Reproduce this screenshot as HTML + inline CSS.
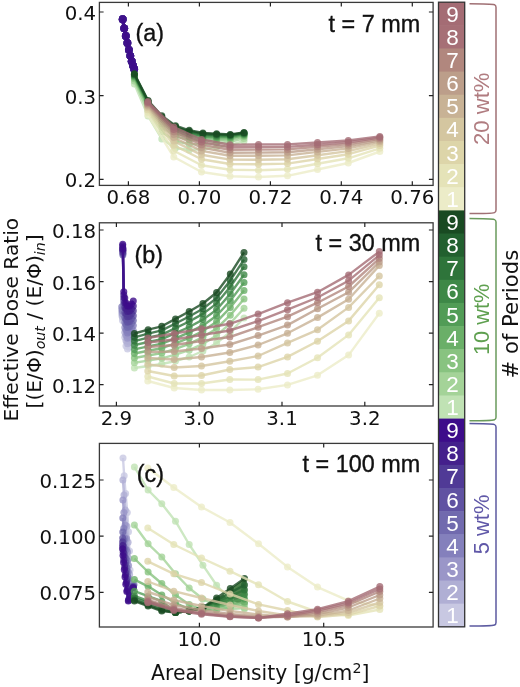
<!DOCTYPE html>
<html><head><meta charset="utf-8"><style>
html,body{margin:0;padding:0;background:#fff;width:520px;height:687px;overflow:hidden}
svg{display:block}
</style></head><body>
<svg width="520" height="687" viewBox="0 0 520 687">
<rect x="0" y="0" width="520" height="687" fill="#ffffff"/>
<defs>
<clipPath id="ca"><rect x="99.4" y="2.4" width="333.7" height="183.0"/></clipPath>
<clipPath id="cb"><rect x="99.4" y="222.8" width="333.7" height="183.2"/></clipPath>
<clipPath id="cc"><rect x="99.4" y="443.4" width="333.7" height="183.6"/></clipPath>
</defs>
<g clip-path="url(#ca)">
<polyline points="122.7,19.2 124.2,28.3 125.8,36 127.4,43 128.9,49.8 130.3,55.8 131.7,61.2 133,65.5 134.2,69" fill="none" stroke="#c8c8e2" stroke-opacity="0.8" stroke-width="3.2" stroke-linejoin="round" stroke-linecap="butt"/>
<circle cx="122.7" cy="19.2" r="3.9" fill="#c8c8e2" fill-opacity="0.8"/>
<circle cx="124.2" cy="28.3" r="3.9" fill="#c8c8e2" fill-opacity="0.8"/>
<circle cx="125.8" cy="36" r="3.9" fill="#c8c8e2" fill-opacity="0.8"/>
<circle cx="127.4" cy="43" r="3.9" fill="#c8c8e2" fill-opacity="0.8"/>
<circle cx="128.9" cy="49.8" r="3.9" fill="#c8c8e2" fill-opacity="0.8"/>
<circle cx="130.3" cy="55.8" r="3.9" fill="#c8c8e2" fill-opacity="0.8"/>
<circle cx="131.7" cy="61.2" r="3.9" fill="#c8c8e2" fill-opacity="0.8"/>
<circle cx="133" cy="65.5" r="3.9" fill="#c8c8e2" fill-opacity="0.8"/>
<circle cx="134.2" cy="69" r="3.9" fill="#c8c8e2" fill-opacity="0.8"/>
<polyline points="122.7,19.2 124.2,28.3 125.8,36 127.4,43 128.9,49.8 130.3,55.8 131.7,61.2 133,65.5 134.2,69" fill="none" stroke="#b0afd4" stroke-opacity="0.8" stroke-width="3.2" stroke-linejoin="round" stroke-linecap="butt"/>
<circle cx="122.7" cy="19.2" r="3.9" fill="#b0afd4" fill-opacity="0.8"/>
<circle cx="124.2" cy="28.3" r="3.9" fill="#b0afd4" fill-opacity="0.8"/>
<circle cx="125.8" cy="36" r="3.9" fill="#b0afd4" fill-opacity="0.8"/>
<circle cx="127.4" cy="43" r="3.9" fill="#b0afd4" fill-opacity="0.8"/>
<circle cx="128.9" cy="49.8" r="3.9" fill="#b0afd4" fill-opacity="0.8"/>
<circle cx="130.3" cy="55.8" r="3.9" fill="#b0afd4" fill-opacity="0.8"/>
<circle cx="131.7" cy="61.2" r="3.9" fill="#b0afd4" fill-opacity="0.8"/>
<circle cx="133" cy="65.5" r="3.9" fill="#b0afd4" fill-opacity="0.8"/>
<circle cx="134.2" cy="69" r="3.9" fill="#b0afd4" fill-opacity="0.8"/>
<polyline points="122.7,19.2 124.2,28.3 125.8,36 127.4,43 128.9,49.8 130.3,55.8 131.7,61.2 133,65.5 134.2,69" fill="none" stroke="#9a96c8" stroke-opacity="0.8" stroke-width="3.2" stroke-linejoin="round" stroke-linecap="butt"/>
<circle cx="122.7" cy="19.2" r="3.9" fill="#9a96c8" fill-opacity="0.8"/>
<circle cx="124.2" cy="28.3" r="3.9" fill="#9a96c8" fill-opacity="0.8"/>
<circle cx="125.8" cy="36" r="3.9" fill="#9a96c8" fill-opacity="0.8"/>
<circle cx="127.4" cy="43" r="3.9" fill="#9a96c8" fill-opacity="0.8"/>
<circle cx="128.9" cy="49.8" r="3.9" fill="#9a96c8" fill-opacity="0.8"/>
<circle cx="130.3" cy="55.8" r="3.9" fill="#9a96c8" fill-opacity="0.8"/>
<circle cx="131.7" cy="61.2" r="3.9" fill="#9a96c8" fill-opacity="0.8"/>
<circle cx="133" cy="65.5" r="3.9" fill="#9a96c8" fill-opacity="0.8"/>
<circle cx="134.2" cy="69" r="3.9" fill="#9a96c8" fill-opacity="0.8"/>
<polyline points="122.7,19.2 124.2,28.3 125.8,36 127.4,43 128.9,49.8 130.3,55.8 131.7,61.2 133,65.5 134.2,69" fill="none" stroke="#8480bc" stroke-opacity="0.8" stroke-width="3.2" stroke-linejoin="round" stroke-linecap="butt"/>
<circle cx="122.7" cy="19.2" r="3.9" fill="#8480bc" fill-opacity="0.8"/>
<circle cx="124.2" cy="28.3" r="3.9" fill="#8480bc" fill-opacity="0.8"/>
<circle cx="125.8" cy="36" r="3.9" fill="#8480bc" fill-opacity="0.8"/>
<circle cx="127.4" cy="43" r="3.9" fill="#8480bc" fill-opacity="0.8"/>
<circle cx="128.9" cy="49.8" r="3.9" fill="#8480bc" fill-opacity="0.8"/>
<circle cx="130.3" cy="55.8" r="3.9" fill="#8480bc" fill-opacity="0.8"/>
<circle cx="131.7" cy="61.2" r="3.9" fill="#8480bc" fill-opacity="0.8"/>
<circle cx="133" cy="65.5" r="3.9" fill="#8480bc" fill-opacity="0.8"/>
<circle cx="134.2" cy="69" r="3.9" fill="#8480bc" fill-opacity="0.8"/>
<polyline points="122.7,19.2 124.2,28.3 125.8,36 127.4,43 128.9,49.8 130.3,55.8 131.7,61.2 133,65.5 134.2,69" fill="none" stroke="#716aae" stroke-opacity="0.8" stroke-width="3.2" stroke-linejoin="round" stroke-linecap="butt"/>
<circle cx="122.7" cy="19.2" r="3.9" fill="#716aae" fill-opacity="0.8"/>
<circle cx="124.2" cy="28.3" r="3.9" fill="#716aae" fill-opacity="0.8"/>
<circle cx="125.8" cy="36" r="3.9" fill="#716aae" fill-opacity="0.8"/>
<circle cx="127.4" cy="43" r="3.9" fill="#716aae" fill-opacity="0.8"/>
<circle cx="128.9" cy="49.8" r="3.9" fill="#716aae" fill-opacity="0.8"/>
<circle cx="130.3" cy="55.8" r="3.9" fill="#716aae" fill-opacity="0.8"/>
<circle cx="131.7" cy="61.2" r="3.9" fill="#716aae" fill-opacity="0.8"/>
<circle cx="133" cy="65.5" r="3.9" fill="#716aae" fill-opacity="0.8"/>
<circle cx="134.2" cy="69" r="3.9" fill="#716aae" fill-opacity="0.8"/>
<polyline points="122.7,19.2 124.2,28.3 125.8,36 127.4,43 128.9,49.8 130.3,55.8 131.7,61.2 133,65.5 134.2,69" fill="none" stroke="#6052a2" stroke-opacity="0.8" stroke-width="3.2" stroke-linejoin="round" stroke-linecap="butt"/>
<circle cx="122.7" cy="19.2" r="3.9" fill="#6052a2" fill-opacity="0.8"/>
<circle cx="124.2" cy="28.3" r="3.9" fill="#6052a2" fill-opacity="0.8"/>
<circle cx="125.8" cy="36" r="3.9" fill="#6052a2" fill-opacity="0.8"/>
<circle cx="127.4" cy="43" r="3.9" fill="#6052a2" fill-opacity="0.8"/>
<circle cx="128.9" cy="49.8" r="3.9" fill="#6052a2" fill-opacity="0.8"/>
<circle cx="130.3" cy="55.8" r="3.9" fill="#6052a2" fill-opacity="0.8"/>
<circle cx="131.7" cy="61.2" r="3.9" fill="#6052a2" fill-opacity="0.8"/>
<circle cx="133" cy="65.5" r="3.9" fill="#6052a2" fill-opacity="0.8"/>
<circle cx="134.2" cy="69" r="3.9" fill="#6052a2" fill-opacity="0.8"/>
<polyline points="122.7,19.2 124.2,28.3 125.8,36 127.4,43 128.9,49.8 130.3,55.8 131.7,61.2 133,65.5 134.2,69" fill="none" stroke="#503a96" stroke-opacity="0.8" stroke-width="3.2" stroke-linejoin="round" stroke-linecap="butt"/>
<circle cx="122.7" cy="19.2" r="3.9" fill="#503a96" fill-opacity="0.8"/>
<circle cx="124.2" cy="28.3" r="3.9" fill="#503a96" fill-opacity="0.8"/>
<circle cx="125.8" cy="36" r="3.9" fill="#503a96" fill-opacity="0.8"/>
<circle cx="127.4" cy="43" r="3.9" fill="#503a96" fill-opacity="0.8"/>
<circle cx="128.9" cy="49.8" r="3.9" fill="#503a96" fill-opacity="0.8"/>
<circle cx="130.3" cy="55.8" r="3.9" fill="#503a96" fill-opacity="0.8"/>
<circle cx="131.7" cy="61.2" r="3.9" fill="#503a96" fill-opacity="0.8"/>
<circle cx="133" cy="65.5" r="3.9" fill="#503a96" fill-opacity="0.8"/>
<circle cx="134.2" cy="69" r="3.9" fill="#503a96" fill-opacity="0.8"/>
<polyline points="122.7,19.2 124.2,28.3 125.8,36 127.4,43 128.9,49.8 130.3,55.8 131.7,61.2 133,65.5 134.2,69" fill="none" stroke="#44208c" stroke-opacity="0.8" stroke-width="3.2" stroke-linejoin="round" stroke-linecap="butt"/>
<circle cx="122.7" cy="19.2" r="3.9" fill="#44208c" fill-opacity="0.8"/>
<circle cx="124.2" cy="28.3" r="3.9" fill="#44208c" fill-opacity="0.8"/>
<circle cx="125.8" cy="36" r="3.9" fill="#44208c" fill-opacity="0.8"/>
<circle cx="127.4" cy="43" r="3.9" fill="#44208c" fill-opacity="0.8"/>
<circle cx="128.9" cy="49.8" r="3.9" fill="#44208c" fill-opacity="0.8"/>
<circle cx="130.3" cy="55.8" r="3.9" fill="#44208c" fill-opacity="0.8"/>
<circle cx="131.7" cy="61.2" r="3.9" fill="#44208c" fill-opacity="0.8"/>
<circle cx="133" cy="65.5" r="3.9" fill="#44208c" fill-opacity="0.8"/>
<circle cx="134.2" cy="69" r="3.9" fill="#44208c" fill-opacity="0.8"/>
<polyline points="122.7,19.2 124.2,28.3 125.8,36 127.4,43 128.9,49.8 130.3,55.8 131.7,61.2 133,65.5 134.2,69" fill="none" stroke="#3d0c8a" stroke-opacity="0.8" stroke-width="3.2" stroke-linejoin="round" stroke-linecap="butt"/>
<circle cx="122.7" cy="19.2" r="3.9" fill="#3d0c8a" fill-opacity="0.8"/>
<circle cx="124.2" cy="28.3" r="3.9" fill="#3d0c8a" fill-opacity="0.8"/>
<circle cx="125.8" cy="36" r="3.9" fill="#3d0c8a" fill-opacity="0.8"/>
<circle cx="127.4" cy="43" r="3.9" fill="#3d0c8a" fill-opacity="0.8"/>
<circle cx="128.9" cy="49.8" r="3.9" fill="#3d0c8a" fill-opacity="0.8"/>
<circle cx="130.3" cy="55.8" r="3.9" fill="#3d0c8a" fill-opacity="0.8"/>
<circle cx="131.7" cy="61.2" r="3.9" fill="#3d0c8a" fill-opacity="0.8"/>
<circle cx="133" cy="65.5" r="3.9" fill="#3d0c8a" fill-opacity="0.8"/>
<circle cx="134.2" cy="69" r="3.9" fill="#3d0c8a" fill-opacity="0.8"/>
<polyline points="134.4,84 148.1,116 161.8,139 175.5,148 189.2,150 202.9,149 216.6,147 230.3,145 244,141" fill="none" stroke="#c0e2b4" stroke-opacity="0.8" stroke-width="2.4" stroke-linejoin="round" stroke-linecap="butt"/>
<circle cx="134.4" cy="84" r="3.5" fill="#c0e2b4" fill-opacity="0.8"/>
<circle cx="148.1" cy="116" r="3.5" fill="#c0e2b4" fill-opacity="0.8"/>
<circle cx="161.8" cy="139" r="3.5" fill="#c0e2b4" fill-opacity="0.8"/>
<circle cx="175.5" cy="148" r="3.5" fill="#c0e2b4" fill-opacity="0.8"/>
<circle cx="189.2" cy="150" r="3.5" fill="#c0e2b4" fill-opacity="0.8"/>
<circle cx="202.9" cy="149" r="3.5" fill="#c0e2b4" fill-opacity="0.8"/>
<circle cx="216.6" cy="147" r="3.5" fill="#c0e2b4" fill-opacity="0.8"/>
<circle cx="230.3" cy="145" r="3.5" fill="#c0e2b4" fill-opacity="0.8"/>
<circle cx="244" cy="141" r="3.5" fill="#c0e2b4" fill-opacity="0.8"/>
<polyline points="134.4,80.9 148.1,111.3 161.8,132 175.5,141.3 189.2,144.1 202.9,144.2 216.6,143 230.3,141.8 244,138.4" fill="none" stroke="#a4d398" stroke-opacity="0.8" stroke-width="2.4" stroke-linejoin="round" stroke-linecap="butt"/>
<circle cx="134.4" cy="80.9" r="3.5" fill="#a4d398" fill-opacity="0.8"/>
<circle cx="148.1" cy="111.3" r="3.5" fill="#a4d398" fill-opacity="0.8"/>
<circle cx="161.8" cy="132" r="3.5" fill="#a4d398" fill-opacity="0.8"/>
<circle cx="175.5" cy="141.3" r="3.5" fill="#a4d398" fill-opacity="0.8"/>
<circle cx="189.2" cy="144.1" r="3.5" fill="#a4d398" fill-opacity="0.8"/>
<circle cx="202.9" cy="144.2" r="3.5" fill="#a4d398" fill-opacity="0.8"/>
<circle cx="216.6" cy="143" r="3.5" fill="#a4d398" fill-opacity="0.8"/>
<circle cx="230.3" cy="141.8" r="3.5" fill="#a4d398" fill-opacity="0.8"/>
<circle cx="244" cy="138.4" r="3.5" fill="#a4d398" fill-opacity="0.8"/>
<polyline points="134.4,78.7 148.1,107.9 161.8,126.9 175.5,136.4 189.2,139.8 202.9,140.7 216.6,140.1 230.3,139.5 244,136.6" fill="none" stroke="#88c380" stroke-opacity="0.8" stroke-width="2.4" stroke-linejoin="round" stroke-linecap="butt"/>
<circle cx="134.4" cy="78.7" r="3.5" fill="#88c380" fill-opacity="0.8"/>
<circle cx="148.1" cy="107.9" r="3.5" fill="#88c380" fill-opacity="0.8"/>
<circle cx="161.8" cy="126.9" r="3.5" fill="#88c380" fill-opacity="0.8"/>
<circle cx="175.5" cy="136.4" r="3.5" fill="#88c380" fill-opacity="0.8"/>
<circle cx="189.2" cy="139.8" r="3.5" fill="#88c380" fill-opacity="0.8"/>
<circle cx="202.9" cy="140.7" r="3.5" fill="#88c380" fill-opacity="0.8"/>
<circle cx="216.6" cy="140.1" r="3.5" fill="#88c380" fill-opacity="0.8"/>
<circle cx="230.3" cy="139.5" r="3.5" fill="#88c380" fill-opacity="0.8"/>
<circle cx="244" cy="136.6" r="3.5" fill="#88c380" fill-opacity="0.8"/>
<polyline points="134.4,77.3 148.1,105.8 161.8,123.7 175.5,133.3 189.2,137 202.9,138.4 216.6,138.3 230.3,138 244,135.4" fill="none" stroke="#6aaf68" stroke-opacity="0.8" stroke-width="2.4" stroke-linejoin="round" stroke-linecap="butt"/>
<circle cx="134.4" cy="77.3" r="3.5" fill="#6aaf68" fill-opacity="0.8"/>
<circle cx="148.1" cy="105.8" r="3.5" fill="#6aaf68" fill-opacity="0.8"/>
<circle cx="161.8" cy="123.7" r="3.5" fill="#6aaf68" fill-opacity="0.8"/>
<circle cx="175.5" cy="133.3" r="3.5" fill="#6aaf68" fill-opacity="0.8"/>
<circle cx="189.2" cy="137" r="3.5" fill="#6aaf68" fill-opacity="0.8"/>
<circle cx="202.9" cy="138.4" r="3.5" fill="#6aaf68" fill-opacity="0.8"/>
<circle cx="216.6" cy="138.3" r="3.5" fill="#6aaf68" fill-opacity="0.8"/>
<circle cx="230.3" cy="138" r="3.5" fill="#6aaf68" fill-opacity="0.8"/>
<circle cx="244" cy="135.4" r="3.5" fill="#6aaf68" fill-opacity="0.8"/>
<polyline points="134.4,76.2 148.1,104.2 161.8,121.4 175.5,131.1 189.2,135 202.9,136.8 216.6,137 230.3,136.9 244,134.5" fill="none" stroke="#519c56" stroke-opacity="0.8" stroke-width="2.4" stroke-linejoin="round" stroke-linecap="butt"/>
<circle cx="134.4" cy="76.2" r="3.5" fill="#519c56" fill-opacity="0.8"/>
<circle cx="148.1" cy="104.2" r="3.5" fill="#519c56" fill-opacity="0.8"/>
<circle cx="161.8" cy="121.4" r="3.5" fill="#519c56" fill-opacity="0.8"/>
<circle cx="175.5" cy="131.1" r="3.5" fill="#519c56" fill-opacity="0.8"/>
<circle cx="189.2" cy="135" r="3.5" fill="#519c56" fill-opacity="0.8"/>
<circle cx="202.9" cy="136.8" r="3.5" fill="#519c56" fill-opacity="0.8"/>
<circle cx="216.6" cy="137" r="3.5" fill="#519c56" fill-opacity="0.8"/>
<circle cx="230.3" cy="136.9" r="3.5" fill="#519c56" fill-opacity="0.8"/>
<circle cx="244" cy="134.5" r="3.5" fill="#519c56" fill-opacity="0.8"/>
<polyline points="134.4,75.4 148.1,103 161.8,119.5 175.5,129.3 189.2,133.5 202.9,135.6 216.6,135.9 230.3,136.1 244,133.9" fill="none" stroke="#3e8847" stroke-opacity="0.8" stroke-width="2.4" stroke-linejoin="round" stroke-linecap="butt"/>
<circle cx="134.4" cy="75.4" r="3.5" fill="#3e8847" fill-opacity="0.8"/>
<circle cx="148.1" cy="103" r="3.5" fill="#3e8847" fill-opacity="0.8"/>
<circle cx="161.8" cy="119.5" r="3.5" fill="#3e8847" fill-opacity="0.8"/>
<circle cx="175.5" cy="129.3" r="3.5" fill="#3e8847" fill-opacity="0.8"/>
<circle cx="189.2" cy="133.5" r="3.5" fill="#3e8847" fill-opacity="0.8"/>
<circle cx="202.9" cy="135.6" r="3.5" fill="#3e8847" fill-opacity="0.8"/>
<circle cx="216.6" cy="135.9" r="3.5" fill="#3e8847" fill-opacity="0.8"/>
<circle cx="230.3" cy="136.1" r="3.5" fill="#3e8847" fill-opacity="0.8"/>
<circle cx="244" cy="133.9" r="3.5" fill="#3e8847" fill-opacity="0.8"/>
<polyline points="134.4,74.8 148.1,102 161.8,118.1 175.5,127.9 189.2,132.3 202.9,134.6 216.6,135.1 230.3,135.5 244,133.3" fill="none" stroke="#2e743a" stroke-opacity="0.8" stroke-width="2.4" stroke-linejoin="round" stroke-linecap="butt"/>
<circle cx="134.4" cy="74.8" r="3.5" fill="#2e743a" fill-opacity="0.8"/>
<circle cx="148.1" cy="102" r="3.5" fill="#2e743a" fill-opacity="0.8"/>
<circle cx="161.8" cy="118.1" r="3.5" fill="#2e743a" fill-opacity="0.8"/>
<circle cx="175.5" cy="127.9" r="3.5" fill="#2e743a" fill-opacity="0.8"/>
<circle cx="189.2" cy="132.3" r="3.5" fill="#2e743a" fill-opacity="0.8"/>
<circle cx="202.9" cy="134.6" r="3.5" fill="#2e743a" fill-opacity="0.8"/>
<circle cx="216.6" cy="135.1" r="3.5" fill="#2e743a" fill-opacity="0.8"/>
<circle cx="230.3" cy="135.5" r="3.5" fill="#2e743a" fill-opacity="0.8"/>
<circle cx="244" cy="133.3" r="3.5" fill="#2e743a" fill-opacity="0.8"/>
<polyline points="134.4,74.3 148.1,101.3 161.8,117 175.5,126.8 189.2,131.3 202.9,133.8 216.6,134.5 230.3,134.9 244,132.9" fill="none" stroke="#22602f" stroke-opacity="0.8" stroke-width="2.4" stroke-linejoin="round" stroke-linecap="butt"/>
<circle cx="134.4" cy="74.3" r="3.5" fill="#22602f" fill-opacity="0.8"/>
<circle cx="148.1" cy="101.3" r="3.5" fill="#22602f" fill-opacity="0.8"/>
<circle cx="161.8" cy="117" r="3.5" fill="#22602f" fill-opacity="0.8"/>
<circle cx="175.5" cy="126.8" r="3.5" fill="#22602f" fill-opacity="0.8"/>
<circle cx="189.2" cy="131.3" r="3.5" fill="#22602f" fill-opacity="0.8"/>
<circle cx="202.9" cy="133.8" r="3.5" fill="#22602f" fill-opacity="0.8"/>
<circle cx="216.6" cy="134.5" r="3.5" fill="#22602f" fill-opacity="0.8"/>
<circle cx="230.3" cy="134.9" r="3.5" fill="#22602f" fill-opacity="0.8"/>
<circle cx="244" cy="132.9" r="3.5" fill="#22602f" fill-opacity="0.8"/>
<polyline points="134.4,73.8 148.1,100.5 161.8,115.8 175.5,125.7 189.2,130.3 202.9,133 216.6,133.8 230.3,134.4 244,132.5" fill="none" stroke="#194a22" stroke-opacity="0.8" stroke-width="2.4" stroke-linejoin="round" stroke-linecap="butt"/>
<circle cx="134.4" cy="73.8" r="3.5" fill="#194a22" fill-opacity="0.8"/>
<circle cx="148.1" cy="100.5" r="3.5" fill="#194a22" fill-opacity="0.8"/>
<circle cx="161.8" cy="115.8" r="3.5" fill="#194a22" fill-opacity="0.8"/>
<circle cx="175.5" cy="125.7" r="3.5" fill="#194a22" fill-opacity="0.8"/>
<circle cx="189.2" cy="130.3" r="3.5" fill="#194a22" fill-opacity="0.8"/>
<circle cx="202.9" cy="133" r="3.5" fill="#194a22" fill-opacity="0.8"/>
<circle cx="216.6" cy="133.8" r="3.5" fill="#194a22" fill-opacity="0.8"/>
<circle cx="230.3" cy="134.4" r="3.5" fill="#194a22" fill-opacity="0.8"/>
<circle cx="244" cy="132.5" r="3.5" fill="#194a22" fill-opacity="0.8"/>
<polyline points="147.8,115 173.8,157 201.5,172 230,176.3 258.5,177 287.5,175.8 317.5,169.5 348.3,163 379.8,151.5" fill="none" stroke="#ececc8" stroke-opacity="0.8" stroke-width="2.4" stroke-linejoin="round" stroke-linecap="butt"/>
<circle cx="147.8" cy="115" r="3.5" fill="#ececc8" fill-opacity="0.8"/>
<circle cx="173.8" cy="157" r="3.5" fill="#ececc8" fill-opacity="0.8"/>
<circle cx="201.5" cy="172" r="3.5" fill="#ececc8" fill-opacity="0.8"/>
<circle cx="230" cy="176.3" r="3.5" fill="#ececc8" fill-opacity="0.8"/>
<circle cx="258.5" cy="177" r="3.5" fill="#ececc8" fill-opacity="0.8"/>
<circle cx="287.5" cy="175.8" r="3.5" fill="#ececc8" fill-opacity="0.8"/>
<circle cx="317.5" cy="169.5" r="3.5" fill="#ececc8" fill-opacity="0.8"/>
<circle cx="348.3" cy="163" r="3.5" fill="#ececc8" fill-opacity="0.8"/>
<circle cx="379.8" cy="151.5" r="3.5" fill="#ececc8" fill-opacity="0.8"/>
<polyline points="147.8,112.2 173.8,150.7 201.5,165.2 230,169.7 258.5,170.2 287.5,169.2 317.5,163.8 348.3,158.3 379.8,148.3" fill="none" stroke="#e5e3b8" stroke-opacity="0.8" stroke-width="2.4" stroke-linejoin="round" stroke-linecap="butt"/>
<circle cx="147.8" cy="112.2" r="3.5" fill="#e5e3b8" fill-opacity="0.8"/>
<circle cx="173.8" cy="150.7" r="3.5" fill="#e5e3b8" fill-opacity="0.8"/>
<circle cx="201.5" cy="165.2" r="3.5" fill="#e5e3b8" fill-opacity="0.8"/>
<circle cx="230" cy="169.7" r="3.5" fill="#e5e3b8" fill-opacity="0.8"/>
<circle cx="258.5" cy="170.2" r="3.5" fill="#e5e3b8" fill-opacity="0.8"/>
<circle cx="287.5" cy="169.2" r="3.5" fill="#e5e3b8" fill-opacity="0.8"/>
<circle cx="317.5" cy="163.8" r="3.5" fill="#e5e3b8" fill-opacity="0.8"/>
<circle cx="348.3" cy="158.3" r="3.5" fill="#e5e3b8" fill-opacity="0.8"/>
<circle cx="379.8" cy="148.3" r="3.5" fill="#e5e3b8" fill-opacity="0.8"/>
<polyline points="147.8,109.7 173.8,145.3 201.5,159.3 230,164 258.5,164.3 287.5,163.6 317.5,159 348.3,154.2 379.8,145.6" fill="none" stroke="#ddd5a9" stroke-opacity="0.8" stroke-width="2.4" stroke-linejoin="round" stroke-linecap="butt"/>
<circle cx="147.8" cy="109.7" r="3.5" fill="#ddd5a9" fill-opacity="0.8"/>
<circle cx="173.8" cy="145.3" r="3.5" fill="#ddd5a9" fill-opacity="0.8"/>
<circle cx="201.5" cy="159.3" r="3.5" fill="#ddd5a9" fill-opacity="0.8"/>
<circle cx="230" cy="164" r="3.5" fill="#ddd5a9" fill-opacity="0.8"/>
<circle cx="258.5" cy="164.3" r="3.5" fill="#ddd5a9" fill-opacity="0.8"/>
<circle cx="287.5" cy="163.6" r="3.5" fill="#ddd5a9" fill-opacity="0.8"/>
<circle cx="317.5" cy="159" r="3.5" fill="#ddd5a9" fill-opacity="0.8"/>
<circle cx="348.3" cy="154.2" r="3.5" fill="#ddd5a9" fill-opacity="0.8"/>
<circle cx="379.8" cy="145.6" r="3.5" fill="#ddd5a9" fill-opacity="0.8"/>
<polyline points="147.8,107.8 173.8,141.1 201.5,154.8 230,159.6 258.5,159.7 287.5,159.2 317.5,155.2 348.3,151.1 379.8,143.5" fill="none" stroke="#d4c6a0" stroke-opacity="0.8" stroke-width="2.4" stroke-linejoin="round" stroke-linecap="butt"/>
<circle cx="147.8" cy="107.8" r="3.5" fill="#d4c6a0" fill-opacity="0.8"/>
<circle cx="173.8" cy="141.1" r="3.5" fill="#d4c6a0" fill-opacity="0.8"/>
<circle cx="201.5" cy="154.8" r="3.5" fill="#d4c6a0" fill-opacity="0.8"/>
<circle cx="230" cy="159.6" r="3.5" fill="#d4c6a0" fill-opacity="0.8"/>
<circle cx="258.5" cy="159.7" r="3.5" fill="#d4c6a0" fill-opacity="0.8"/>
<circle cx="287.5" cy="159.2" r="3.5" fill="#d4c6a0" fill-opacity="0.8"/>
<circle cx="317.5" cy="155.2" r="3.5" fill="#d4c6a0" fill-opacity="0.8"/>
<circle cx="348.3" cy="151.1" r="3.5" fill="#d4c6a0" fill-opacity="0.8"/>
<circle cx="379.8" cy="143.5" r="3.5" fill="#d4c6a0" fill-opacity="0.8"/>
<polyline points="147.8,106.2 173.8,137.5 201.5,150.9 230,155.8 258.5,155.8 287.5,155.4 317.5,151.9 348.3,148.4 379.8,141.7" fill="none" stroke="#c8b295" stroke-opacity="0.8" stroke-width="2.4" stroke-linejoin="round" stroke-linecap="butt"/>
<circle cx="147.8" cy="106.2" r="3.5" fill="#c8b295" fill-opacity="0.8"/>
<circle cx="173.8" cy="137.5" r="3.5" fill="#c8b295" fill-opacity="0.8"/>
<circle cx="201.5" cy="150.9" r="3.5" fill="#c8b295" fill-opacity="0.8"/>
<circle cx="230" cy="155.8" r="3.5" fill="#c8b295" fill-opacity="0.8"/>
<circle cx="258.5" cy="155.8" r="3.5" fill="#c8b295" fill-opacity="0.8"/>
<circle cx="287.5" cy="155.4" r="3.5" fill="#c8b295" fill-opacity="0.8"/>
<circle cx="317.5" cy="151.9" r="3.5" fill="#c8b295" fill-opacity="0.8"/>
<circle cx="348.3" cy="148.4" r="3.5" fill="#c8b295" fill-opacity="0.8"/>
<circle cx="379.8" cy="141.7" r="3.5" fill="#c8b295" fill-opacity="0.8"/>
<polyline points="147.8,104.9 173.8,134.5 201.5,147.6 230,152.7 258.5,152.6 287.5,152.2 317.5,149.2 348.3,146.1 379.8,140.2" fill="none" stroke="#bc9e8a" stroke-opacity="0.8" stroke-width="2.4" stroke-linejoin="round" stroke-linecap="butt"/>
<circle cx="147.8" cy="104.9" r="3.5" fill="#bc9e8a" fill-opacity="0.8"/>
<circle cx="173.8" cy="134.5" r="3.5" fill="#bc9e8a" fill-opacity="0.8"/>
<circle cx="201.5" cy="147.6" r="3.5" fill="#bc9e8a" fill-opacity="0.8"/>
<circle cx="230" cy="152.7" r="3.5" fill="#bc9e8a" fill-opacity="0.8"/>
<circle cx="258.5" cy="152.6" r="3.5" fill="#bc9e8a" fill-opacity="0.8"/>
<circle cx="287.5" cy="152.2" r="3.5" fill="#bc9e8a" fill-opacity="0.8"/>
<circle cx="317.5" cy="149.2" r="3.5" fill="#bc9e8a" fill-opacity="0.8"/>
<circle cx="348.3" cy="146.1" r="3.5" fill="#bc9e8a" fill-opacity="0.8"/>
<circle cx="379.8" cy="140.2" r="3.5" fill="#bc9e8a" fill-opacity="0.8"/>
<polyline points="147.8,103.7 173.8,131.8 201.5,144.7 230,149.8 258.5,149.6 287.5,149.4 317.5,146.8 348.3,144.1 379.8,138.8" fill="none" stroke="#b1877e" stroke-opacity="0.8" stroke-width="2.4" stroke-linejoin="round" stroke-linecap="butt"/>
<circle cx="147.8" cy="103.7" r="3.5" fill="#b1877e" fill-opacity="0.8"/>
<circle cx="173.8" cy="131.8" r="3.5" fill="#b1877e" fill-opacity="0.8"/>
<circle cx="201.5" cy="144.7" r="3.5" fill="#b1877e" fill-opacity="0.8"/>
<circle cx="230" cy="149.8" r="3.5" fill="#b1877e" fill-opacity="0.8"/>
<circle cx="258.5" cy="149.6" r="3.5" fill="#b1877e" fill-opacity="0.8"/>
<circle cx="287.5" cy="149.4" r="3.5" fill="#b1877e" fill-opacity="0.8"/>
<circle cx="317.5" cy="146.8" r="3.5" fill="#b1877e" fill-opacity="0.8"/>
<circle cx="348.3" cy="144.1" r="3.5" fill="#b1877e" fill-opacity="0.8"/>
<circle cx="379.8" cy="138.8" r="3.5" fill="#b1877e" fill-opacity="0.8"/>
<polyline points="147.8,102.6 173.8,129.4 201.5,142.1 230,147.3 258.5,147 287.5,146.9 317.5,144.7 348.3,142.3 379.8,137.6" fill="none" stroke="#a66f76" stroke-opacity="0.8" stroke-width="2.4" stroke-linejoin="round" stroke-linecap="butt"/>
<circle cx="147.8" cy="102.6" r="3.5" fill="#a66f76" fill-opacity="0.8"/>
<circle cx="173.8" cy="129.4" r="3.5" fill="#a66f76" fill-opacity="0.8"/>
<circle cx="201.5" cy="142.1" r="3.5" fill="#a66f76" fill-opacity="0.8"/>
<circle cx="230" cy="147.3" r="3.5" fill="#a66f76" fill-opacity="0.8"/>
<circle cx="258.5" cy="147" r="3.5" fill="#a66f76" fill-opacity="0.8"/>
<circle cx="287.5" cy="146.9" r="3.5" fill="#a66f76" fill-opacity="0.8"/>
<circle cx="317.5" cy="144.7" r="3.5" fill="#a66f76" fill-opacity="0.8"/>
<circle cx="348.3" cy="142.3" r="3.5" fill="#a66f76" fill-opacity="0.8"/>
<circle cx="379.8" cy="137.6" r="3.5" fill="#a66f76" fill-opacity="0.8"/>
<polyline points="147.8,101.5 173.8,127 201.5,139.5 230,144.8 258.5,144.4 287.5,144.4 317.5,142.5 348.3,140.5 379.8,136.4" fill="none" stroke="#a46c74" stroke-opacity="0.8" stroke-width="2.4" stroke-linejoin="round" stroke-linecap="butt"/>
<circle cx="147.8" cy="101.5" r="3.5" fill="#a46c74" fill-opacity="0.8"/>
<circle cx="173.8" cy="127" r="3.5" fill="#a46c74" fill-opacity="0.8"/>
<circle cx="201.5" cy="139.5" r="3.5" fill="#a46c74" fill-opacity="0.8"/>
<circle cx="230" cy="144.8" r="3.5" fill="#a46c74" fill-opacity="0.8"/>
<circle cx="258.5" cy="144.4" r="3.5" fill="#a46c74" fill-opacity="0.8"/>
<circle cx="287.5" cy="144.4" r="3.5" fill="#a46c74" fill-opacity="0.8"/>
<circle cx="317.5" cy="142.5" r="3.5" fill="#a46c74" fill-opacity="0.8"/>
<circle cx="348.3" cy="140.5" r="3.5" fill="#a46c74" fill-opacity="0.8"/>
<circle cx="379.8" cy="136.4" r="3.5" fill="#a46c74" fill-opacity="0.8"/>
</g>
<g clip-path="url(#cb)">
<polyline points="121.8,315.5 122.5,320.5 123.8,315.3 124.8,337.2 126,346.1 127.5,349.1 129.5,347.2 131.5,343.2 133.3,340.2" fill="none" stroke="#c8c8e2" stroke-opacity="0.8" stroke-width="2.4" stroke-linejoin="round" stroke-linecap="butt"/>
<circle cx="121.8" cy="315.5" r="3.5" fill="#c8c8e2" fill-opacity="0.8"/>
<circle cx="122.5" cy="320.5" r="3.5" fill="#c8c8e2" fill-opacity="0.8"/>
<circle cx="123.8" cy="315.3" r="3.5" fill="#c8c8e2" fill-opacity="0.8"/>
<circle cx="124.8" cy="337.2" r="3.5" fill="#c8c8e2" fill-opacity="0.8"/>
<circle cx="126" cy="346.1" r="3.5" fill="#c8c8e2" fill-opacity="0.8"/>
<circle cx="127.5" cy="349.1" r="3.5" fill="#c8c8e2" fill-opacity="0.8"/>
<circle cx="129.5" cy="347.2" r="3.5" fill="#c8c8e2" fill-opacity="0.8"/>
<circle cx="131.5" cy="343.2" r="3.5" fill="#c8c8e2" fill-opacity="0.8"/>
<circle cx="133.3" cy="340.2" r="3.5" fill="#c8c8e2" fill-opacity="0.8"/>
<polyline points="121.8,312.6 122.5,317.3 123.8,312.4 124.8,332.3 126,340.7 127.5,343.7 129.5,342 131.5,338.3 133.3,335.3" fill="none" stroke="#b0afd4" stroke-opacity="0.8" stroke-width="2.4" stroke-linejoin="round" stroke-linecap="butt"/>
<circle cx="121.8" cy="312.6" r="3.5" fill="#b0afd4" fill-opacity="0.8"/>
<circle cx="122.5" cy="317.3" r="3.5" fill="#b0afd4" fill-opacity="0.8"/>
<circle cx="123.8" cy="312.4" r="3.5" fill="#b0afd4" fill-opacity="0.8"/>
<circle cx="124.8" cy="332.3" r="3.5" fill="#b0afd4" fill-opacity="0.8"/>
<circle cx="126" cy="340.7" r="3.5" fill="#b0afd4" fill-opacity="0.8"/>
<circle cx="127.5" cy="343.7" r="3.5" fill="#b0afd4" fill-opacity="0.8"/>
<circle cx="129.5" cy="342" r="3.5" fill="#b0afd4" fill-opacity="0.8"/>
<circle cx="131.5" cy="338.3" r="3.5" fill="#b0afd4" fill-opacity="0.8"/>
<circle cx="133.3" cy="335.3" r="3.5" fill="#b0afd4" fill-opacity="0.8"/>
<polyline points="121.8,309.6 122.5,314.1 123.8,309.4 124.8,327.4 126,335.3 127.5,338.3 129.5,336.9 131.5,333.4 133.3,330.4" fill="none" stroke="#9a96c8" stroke-opacity="0.8" stroke-width="2.4" stroke-linejoin="round" stroke-linecap="butt"/>
<circle cx="121.8" cy="309.6" r="3.5" fill="#9a96c8" fill-opacity="0.8"/>
<circle cx="122.5" cy="314.1" r="3.5" fill="#9a96c8" fill-opacity="0.8"/>
<circle cx="123.8" cy="309.4" r="3.5" fill="#9a96c8" fill-opacity="0.8"/>
<circle cx="124.8" cy="327.4" r="3.5" fill="#9a96c8" fill-opacity="0.8"/>
<circle cx="126" cy="335.3" r="3.5" fill="#9a96c8" fill-opacity="0.8"/>
<circle cx="127.5" cy="338.3" r="3.5" fill="#9a96c8" fill-opacity="0.8"/>
<circle cx="129.5" cy="336.9" r="3.5" fill="#9a96c8" fill-opacity="0.8"/>
<circle cx="131.5" cy="333.4" r="3.5" fill="#9a96c8" fill-opacity="0.8"/>
<circle cx="133.3" cy="330.4" r="3.5" fill="#9a96c8" fill-opacity="0.8"/>
<polyline points="121.8,306.7 122.5,310.9 123.8,306.5 124.8,322.5 126,329.9 127.5,332.9 129.5,331.7 131.5,328.5 133.3,325.5" fill="none" stroke="#8480bc" stroke-opacity="0.8" stroke-width="2.4" stroke-linejoin="round" stroke-linecap="butt"/>
<circle cx="121.8" cy="306.7" r="3.5" fill="#8480bc" fill-opacity="0.8"/>
<circle cx="122.5" cy="310.9" r="3.5" fill="#8480bc" fill-opacity="0.8"/>
<circle cx="123.8" cy="306.5" r="3.5" fill="#8480bc" fill-opacity="0.8"/>
<circle cx="124.8" cy="322.5" r="3.5" fill="#8480bc" fill-opacity="0.8"/>
<circle cx="126" cy="329.9" r="3.5" fill="#8480bc" fill-opacity="0.8"/>
<circle cx="127.5" cy="332.9" r="3.5" fill="#8480bc" fill-opacity="0.8"/>
<circle cx="129.5" cy="331.7" r="3.5" fill="#8480bc" fill-opacity="0.8"/>
<circle cx="131.5" cy="328.5" r="3.5" fill="#8480bc" fill-opacity="0.8"/>
<circle cx="133.3" cy="325.5" r="3.5" fill="#8480bc" fill-opacity="0.8"/>
<polyline points="122.7,250.6 122.9,255.1 123.8,303.6 124.8,317.6 126,324.6 127.5,327.6 129.5,326.6 131.5,323.6 133.3,320.6" fill="none" stroke="#716aae" stroke-opacity="0.8" stroke-width="2.4" stroke-linejoin="round" stroke-linecap="butt"/>
<circle cx="122.7" cy="250.6" r="3.5" fill="#716aae" fill-opacity="0.8"/>
<circle cx="122.9" cy="255.1" r="3.5" fill="#716aae" fill-opacity="0.8"/>
<circle cx="123.8" cy="303.6" r="3.5" fill="#716aae" fill-opacity="0.8"/>
<circle cx="124.8" cy="317.6" r="3.5" fill="#716aae" fill-opacity="0.8"/>
<circle cx="126" cy="324.6" r="3.5" fill="#716aae" fill-opacity="0.8"/>
<circle cx="127.5" cy="327.6" r="3.5" fill="#716aae" fill-opacity="0.8"/>
<circle cx="129.5" cy="326.6" r="3.5" fill="#716aae" fill-opacity="0.8"/>
<circle cx="131.5" cy="323.6" r="3.5" fill="#716aae" fill-opacity="0.8"/>
<circle cx="133.3" cy="320.6" r="3.5" fill="#716aae" fill-opacity="0.8"/>
<polyline points="122.7,249 122.9,253.5 123.8,300.6 124.8,312.7 126,319.2 127.5,322.2 129.5,321.4 131.5,318.7 133.3,315.7" fill="none" stroke="#6052a2" stroke-opacity="0.8" stroke-width="2.4" stroke-linejoin="round" stroke-linecap="butt"/>
<circle cx="122.7" cy="249" r="3.5" fill="#6052a2" fill-opacity="0.8"/>
<circle cx="122.9" cy="253.5" r="3.5" fill="#6052a2" fill-opacity="0.8"/>
<circle cx="123.8" cy="300.6" r="3.5" fill="#6052a2" fill-opacity="0.8"/>
<circle cx="124.8" cy="312.7" r="3.5" fill="#6052a2" fill-opacity="0.8"/>
<circle cx="126" cy="319.2" r="3.5" fill="#6052a2" fill-opacity="0.8"/>
<circle cx="127.5" cy="322.2" r="3.5" fill="#6052a2" fill-opacity="0.8"/>
<circle cx="129.5" cy="321.4" r="3.5" fill="#6052a2" fill-opacity="0.8"/>
<circle cx="131.5" cy="318.7" r="3.5" fill="#6052a2" fill-opacity="0.8"/>
<circle cx="133.3" cy="315.7" r="3.5" fill="#6052a2" fill-opacity="0.8"/>
<polyline points="122.7,247.4 122.9,251.9 123.8,297.7 124.8,307.8 126,313.8 127.5,316.8 129.5,316.3 131.5,313.8 133.3,310.8" fill="none" stroke="#503a96" stroke-opacity="0.8" stroke-width="2.4" stroke-linejoin="round" stroke-linecap="butt"/>
<circle cx="122.7" cy="247.4" r="3.5" fill="#503a96" fill-opacity="0.8"/>
<circle cx="122.9" cy="251.9" r="3.5" fill="#503a96" fill-opacity="0.8"/>
<circle cx="123.8" cy="297.7" r="3.5" fill="#503a96" fill-opacity="0.8"/>
<circle cx="124.8" cy="307.8" r="3.5" fill="#503a96" fill-opacity="0.8"/>
<circle cx="126" cy="313.8" r="3.5" fill="#503a96" fill-opacity="0.8"/>
<circle cx="127.5" cy="316.8" r="3.5" fill="#503a96" fill-opacity="0.8"/>
<circle cx="129.5" cy="316.3" r="3.5" fill="#503a96" fill-opacity="0.8"/>
<circle cx="131.5" cy="313.8" r="3.5" fill="#503a96" fill-opacity="0.8"/>
<circle cx="133.3" cy="310.8" r="3.5" fill="#503a96" fill-opacity="0.8"/>
<polyline points="122.7,245.8 122.9,250.3 123.8,294.7 124.8,302.9 126,308.4 127.5,311.4 129.5,311.1 131.5,308.9 133.3,305.9" fill="none" stroke="#44208c" stroke-opacity="0.8" stroke-width="2.4" stroke-linejoin="round" stroke-linecap="butt"/>
<circle cx="122.7" cy="245.8" r="3.5" fill="#44208c" fill-opacity="0.8"/>
<circle cx="122.9" cy="250.3" r="3.5" fill="#44208c" fill-opacity="0.8"/>
<circle cx="123.8" cy="294.7" r="3.5" fill="#44208c" fill-opacity="0.8"/>
<circle cx="124.8" cy="302.9" r="3.5" fill="#44208c" fill-opacity="0.8"/>
<circle cx="126" cy="308.4" r="3.5" fill="#44208c" fill-opacity="0.8"/>
<circle cx="127.5" cy="311.4" r="3.5" fill="#44208c" fill-opacity="0.8"/>
<circle cx="129.5" cy="311.1" r="3.5" fill="#44208c" fill-opacity="0.8"/>
<circle cx="131.5" cy="308.9" r="3.5" fill="#44208c" fill-opacity="0.8"/>
<circle cx="133.3" cy="305.9" r="3.5" fill="#44208c" fill-opacity="0.8"/>
<polyline points="122.7,244.2 122.9,248.7 123.8,291.8 124.8,298 126,303 127.5,306 129.5,306 131.5,304 133.3,301" fill="none" stroke="#3d0c8a" stroke-opacity="0.8" stroke-width="2.4" stroke-linejoin="round" stroke-linecap="butt"/>
<circle cx="122.7" cy="244.2" r="3.5" fill="#3d0c8a" fill-opacity="0.8"/>
<circle cx="122.9" cy="248.7" r="3.5" fill="#3d0c8a" fill-opacity="0.8"/>
<circle cx="123.8" cy="291.8" r="3.5" fill="#3d0c8a" fill-opacity="0.8"/>
<circle cx="124.8" cy="298" r="3.5" fill="#3d0c8a" fill-opacity="0.8"/>
<circle cx="126" cy="303" r="3.5" fill="#3d0c8a" fill-opacity="0.8"/>
<circle cx="127.5" cy="306" r="3.5" fill="#3d0c8a" fill-opacity="0.8"/>
<circle cx="129.5" cy="306" r="3.5" fill="#3d0c8a" fill-opacity="0.8"/>
<circle cx="131.5" cy="304" r="3.5" fill="#3d0c8a" fill-opacity="0.8"/>
<circle cx="133.3" cy="301" r="3.5" fill="#3d0c8a" fill-opacity="0.8"/>
<polyline points="134.4,368 148.1,366 161.8,364 175.5,361 189.2,357 202.9,351 216.6,343 230.3,332 244,318" fill="none" stroke="#c0e2b4" stroke-opacity="0.8" stroke-width="2.4" stroke-linejoin="round" stroke-linecap="butt"/>
<circle cx="134.4" cy="368" r="3.5" fill="#c0e2b4" fill-opacity="0.8"/>
<circle cx="148.1" cy="366" r="3.5" fill="#c0e2b4" fill-opacity="0.8"/>
<circle cx="161.8" cy="364" r="3.5" fill="#c0e2b4" fill-opacity="0.8"/>
<circle cx="175.5" cy="361" r="3.5" fill="#c0e2b4" fill-opacity="0.8"/>
<circle cx="189.2" cy="357" r="3.5" fill="#c0e2b4" fill-opacity="0.8"/>
<circle cx="202.9" cy="351" r="3.5" fill="#c0e2b4" fill-opacity="0.8"/>
<circle cx="216.6" cy="343" r="3.5" fill="#c0e2b4" fill-opacity="0.8"/>
<circle cx="230.3" cy="332" r="3.5" fill="#c0e2b4" fill-opacity="0.8"/>
<circle cx="244" cy="318" r="3.5" fill="#c0e2b4" fill-opacity="0.8"/>
<polyline points="134.4,362.8 148.1,360.6 161.8,358.3 175.5,354.7 189.2,350.2 202.9,343.9 216.6,335.4 230.3,323.3 244,308.2" fill="none" stroke="#a4d398" stroke-opacity="0.8" stroke-width="2.4" stroke-linejoin="round" stroke-linecap="butt"/>
<circle cx="134.4" cy="362.8" r="3.5" fill="#a4d398" fill-opacity="0.8"/>
<circle cx="148.1" cy="360.6" r="3.5" fill="#a4d398" fill-opacity="0.8"/>
<circle cx="161.8" cy="358.3" r="3.5" fill="#a4d398" fill-opacity="0.8"/>
<circle cx="175.5" cy="354.7" r="3.5" fill="#a4d398" fill-opacity="0.8"/>
<circle cx="189.2" cy="350.2" r="3.5" fill="#a4d398" fill-opacity="0.8"/>
<circle cx="202.9" cy="343.9" r="3.5" fill="#a4d398" fill-opacity="0.8"/>
<circle cx="216.6" cy="335.4" r="3.5" fill="#a4d398" fill-opacity="0.8"/>
<circle cx="230.3" cy="323.3" r="3.5" fill="#a4d398" fill-opacity="0.8"/>
<circle cx="244" cy="308.2" r="3.5" fill="#a4d398" fill-opacity="0.8"/>
<polyline points="134.4,358 148.1,355.5 161.8,353.1 175.5,348.8 189.2,343.8 202.9,337.2 216.6,328.4 230.3,315.2 244,299" fill="none" stroke="#88c380" stroke-opacity="0.8" stroke-width="2.4" stroke-linejoin="round" stroke-linecap="butt"/>
<circle cx="134.4" cy="358" r="3.5" fill="#88c380" fill-opacity="0.8"/>
<circle cx="148.1" cy="355.5" r="3.5" fill="#88c380" fill-opacity="0.8"/>
<circle cx="161.8" cy="353.1" r="3.5" fill="#88c380" fill-opacity="0.8"/>
<circle cx="175.5" cy="348.8" r="3.5" fill="#88c380" fill-opacity="0.8"/>
<circle cx="189.2" cy="343.8" r="3.5" fill="#88c380" fill-opacity="0.8"/>
<circle cx="202.9" cy="337.2" r="3.5" fill="#88c380" fill-opacity="0.8"/>
<circle cx="216.6" cy="328.4" r="3.5" fill="#88c380" fill-opacity="0.8"/>
<circle cx="230.3" cy="315.2" r="3.5" fill="#88c380" fill-opacity="0.8"/>
<circle cx="244" cy="299" r="3.5" fill="#88c380" fill-opacity="0.8"/>
<polyline points="134.4,353.5 148.1,350.8 161.8,348.2 175.5,343.3 189.2,337.9 202.9,331.1 216.6,321.8 230.3,307.6 244,290.4" fill="none" stroke="#6aaf68" stroke-opacity="0.8" stroke-width="2.4" stroke-linejoin="round" stroke-linecap="butt"/>
<circle cx="134.4" cy="353.5" r="3.5" fill="#6aaf68" fill-opacity="0.8"/>
<circle cx="148.1" cy="350.8" r="3.5" fill="#6aaf68" fill-opacity="0.8"/>
<circle cx="161.8" cy="348.2" r="3.5" fill="#6aaf68" fill-opacity="0.8"/>
<circle cx="175.5" cy="343.3" r="3.5" fill="#6aaf68" fill-opacity="0.8"/>
<circle cx="189.2" cy="337.9" r="3.5" fill="#6aaf68" fill-opacity="0.8"/>
<circle cx="202.9" cy="331.1" r="3.5" fill="#6aaf68" fill-opacity="0.8"/>
<circle cx="216.6" cy="321.8" r="3.5" fill="#6aaf68" fill-opacity="0.8"/>
<circle cx="230.3" cy="307.6" r="3.5" fill="#6aaf68" fill-opacity="0.8"/>
<circle cx="244" cy="290.4" r="3.5" fill="#6aaf68" fill-opacity="0.8"/>
<polyline points="134.4,349.4 148.1,346.4 161.8,343.6 175.5,338.3 189.2,332.4 202.9,325.4 216.6,315.7 230.3,300.7 244,282.6" fill="none" stroke="#519c56" stroke-opacity="0.8" stroke-width="2.4" stroke-linejoin="round" stroke-linecap="butt"/>
<circle cx="134.4" cy="349.4" r="3.5" fill="#519c56" fill-opacity="0.8"/>
<circle cx="148.1" cy="346.4" r="3.5" fill="#519c56" fill-opacity="0.8"/>
<circle cx="161.8" cy="343.6" r="3.5" fill="#519c56" fill-opacity="0.8"/>
<circle cx="175.5" cy="338.3" r="3.5" fill="#519c56" fill-opacity="0.8"/>
<circle cx="189.2" cy="332.4" r="3.5" fill="#519c56" fill-opacity="0.8"/>
<circle cx="202.9" cy="325.4" r="3.5" fill="#519c56" fill-opacity="0.8"/>
<circle cx="216.6" cy="315.7" r="3.5" fill="#519c56" fill-opacity="0.8"/>
<circle cx="230.3" cy="300.7" r="3.5" fill="#519c56" fill-opacity="0.8"/>
<circle cx="244" cy="282.6" r="3.5" fill="#519c56" fill-opacity="0.8"/>
<polyline points="134.4,345.2 148.1,342 161.8,339.1 175.5,333.2 189.2,327 202.9,319.6 216.6,309.7 230.3,293.7 244,274.7" fill="none" stroke="#3e8847" stroke-opacity="0.8" stroke-width="2.4" stroke-linejoin="round" stroke-linecap="butt"/>
<circle cx="134.4" cy="345.2" r="3.5" fill="#3e8847" fill-opacity="0.8"/>
<circle cx="148.1" cy="342" r="3.5" fill="#3e8847" fill-opacity="0.8"/>
<circle cx="161.8" cy="339.1" r="3.5" fill="#3e8847" fill-opacity="0.8"/>
<circle cx="175.5" cy="333.2" r="3.5" fill="#3e8847" fill-opacity="0.8"/>
<circle cx="189.2" cy="327" r="3.5" fill="#3e8847" fill-opacity="0.8"/>
<circle cx="202.9" cy="319.6" r="3.5" fill="#3e8847" fill-opacity="0.8"/>
<circle cx="216.6" cy="309.7" r="3.5" fill="#3e8847" fill-opacity="0.8"/>
<circle cx="230.3" cy="293.7" r="3.5" fill="#3e8847" fill-opacity="0.8"/>
<circle cx="244" cy="274.7" r="3.5" fill="#3e8847" fill-opacity="0.8"/>
<polyline points="134.4,341.1 148.1,337.7 161.8,334.6 175.5,328.2 189.2,321.5 202.9,313.9 216.6,303.6 230.3,286.8 244,266.8" fill="none" stroke="#2e743a" stroke-opacity="0.8" stroke-width="2.4" stroke-linejoin="round" stroke-linecap="butt"/>
<circle cx="134.4" cy="341.1" r="3.5" fill="#2e743a" fill-opacity="0.8"/>
<circle cx="148.1" cy="337.7" r="3.5" fill="#2e743a" fill-opacity="0.8"/>
<circle cx="161.8" cy="334.6" r="3.5" fill="#2e743a" fill-opacity="0.8"/>
<circle cx="175.5" cy="328.2" r="3.5" fill="#2e743a" fill-opacity="0.8"/>
<circle cx="189.2" cy="321.5" r="3.5" fill="#2e743a" fill-opacity="0.8"/>
<circle cx="202.9" cy="313.9" r="3.5" fill="#2e743a" fill-opacity="0.8"/>
<circle cx="216.6" cy="303.6" r="3.5" fill="#2e743a" fill-opacity="0.8"/>
<circle cx="230.3" cy="286.8" r="3.5" fill="#2e743a" fill-opacity="0.8"/>
<circle cx="244" cy="266.8" r="3.5" fill="#2e743a" fill-opacity="0.8"/>
<polyline points="134.4,337.3 148.1,333.7 161.8,330.4 175.5,323.5 189.2,316.5 202.9,308.7 216.6,298.1 230.3,280.4 244,259.6" fill="none" stroke="#22602f" stroke-opacity="0.8" stroke-width="2.4" stroke-linejoin="round" stroke-linecap="butt"/>
<circle cx="134.4" cy="337.3" r="3.5" fill="#22602f" fill-opacity="0.8"/>
<circle cx="148.1" cy="333.7" r="3.5" fill="#22602f" fill-opacity="0.8"/>
<circle cx="161.8" cy="330.4" r="3.5" fill="#22602f" fill-opacity="0.8"/>
<circle cx="175.5" cy="323.5" r="3.5" fill="#22602f" fill-opacity="0.8"/>
<circle cx="189.2" cy="316.5" r="3.5" fill="#22602f" fill-opacity="0.8"/>
<circle cx="202.9" cy="308.7" r="3.5" fill="#22602f" fill-opacity="0.8"/>
<circle cx="216.6" cy="298.1" r="3.5" fill="#22602f" fill-opacity="0.8"/>
<circle cx="230.3" cy="280.4" r="3.5" fill="#22602f" fill-opacity="0.8"/>
<circle cx="244" cy="259.6" r="3.5" fill="#22602f" fill-opacity="0.8"/>
<polyline points="134.4,333.5 148.1,329.7 161.8,326.3 175.5,318.9 189.2,311.5 202.9,303.5 216.6,292.5 230.3,274 244,252.4" fill="none" stroke="#194a22" stroke-opacity="0.8" stroke-width="2.4" stroke-linejoin="round" stroke-linecap="butt"/>
<circle cx="134.4" cy="333.5" r="3.5" fill="#194a22" fill-opacity="0.8"/>
<circle cx="148.1" cy="329.7" r="3.5" fill="#194a22" fill-opacity="0.8"/>
<circle cx="161.8" cy="326.3" r="3.5" fill="#194a22" fill-opacity="0.8"/>
<circle cx="175.5" cy="318.9" r="3.5" fill="#194a22" fill-opacity="0.8"/>
<circle cx="189.2" cy="311.5" r="3.5" fill="#194a22" fill-opacity="0.8"/>
<circle cx="202.9" cy="303.5" r="3.5" fill="#194a22" fill-opacity="0.8"/>
<circle cx="216.6" cy="292.5" r="3.5" fill="#194a22" fill-opacity="0.8"/>
<circle cx="230.3" cy="274" r="3.5" fill="#194a22" fill-opacity="0.8"/>
<circle cx="244" cy="252.4" r="3.5" fill="#194a22" fill-opacity="0.8"/>
<polyline points="147.8,381 174.2,388 201.5,390 229.8,390 258.1,389.3 287.5,384.9 317.5,375.3 348.6,355.1 379.3,313.3" fill="none" stroke="#ececc8" stroke-opacity="0.8" stroke-width="2.4" stroke-linejoin="round" stroke-linecap="butt"/>
<circle cx="147.8" cy="381" r="3.5" fill="#ececc8" fill-opacity="0.8"/>
<circle cx="174.2" cy="388" r="3.5" fill="#ececc8" fill-opacity="0.8"/>
<circle cx="201.5" cy="390" r="3.5" fill="#ececc8" fill-opacity="0.8"/>
<circle cx="229.8" cy="390" r="3.5" fill="#ececc8" fill-opacity="0.8"/>
<circle cx="258.1" cy="389.3" r="3.5" fill="#ececc8" fill-opacity="0.8"/>
<circle cx="287.5" cy="384.9" r="3.5" fill="#ececc8" fill-opacity="0.8"/>
<circle cx="317.5" cy="375.3" r="3.5" fill="#ececc8" fill-opacity="0.8"/>
<circle cx="348.6" cy="355.1" r="3.5" fill="#ececc8" fill-opacity="0.8"/>
<circle cx="379.3" cy="313.3" r="3.5" fill="#ececc8" fill-opacity="0.8"/>
<polyline points="147.8,376.5 174.2,383.5 201.5,383.5 229.8,379.5 258.1,379.6 287.5,373.5 317.5,357.8 348.6,334.9 379.3,297.7" fill="none" stroke="#e5e3b8" stroke-opacity="0.8" stroke-width="2.4" stroke-linejoin="round" stroke-linecap="butt"/>
<circle cx="147.8" cy="376.5" r="3.5" fill="#e5e3b8" fill-opacity="0.8"/>
<circle cx="174.2" cy="383.5" r="3.5" fill="#e5e3b8" fill-opacity="0.8"/>
<circle cx="201.5" cy="383.5" r="3.5" fill="#e5e3b8" fill-opacity="0.8"/>
<circle cx="229.8" cy="379.5" r="3.5" fill="#e5e3b8" fill-opacity="0.8"/>
<circle cx="258.1" cy="379.6" r="3.5" fill="#e5e3b8" fill-opacity="0.8"/>
<circle cx="287.5" cy="373.5" r="3.5" fill="#e5e3b8" fill-opacity="0.8"/>
<circle cx="317.5" cy="357.8" r="3.5" fill="#e5e3b8" fill-opacity="0.8"/>
<circle cx="348.6" cy="334.9" r="3.5" fill="#e5e3b8" fill-opacity="0.8"/>
<circle cx="379.3" cy="297.7" r="3.5" fill="#e5e3b8" fill-opacity="0.8"/>
<polyline points="147.8,371 174.2,376 201.5,375.5 229.8,369.5 258.1,367.1 287.5,356.9 317.5,341.2 348.6,320.9 379.3,284.7" fill="none" stroke="#ddd5a9" stroke-opacity="0.8" stroke-width="2.4" stroke-linejoin="round" stroke-linecap="butt"/>
<circle cx="147.8" cy="371" r="3.5" fill="#ddd5a9" fill-opacity="0.8"/>
<circle cx="174.2" cy="376" r="3.5" fill="#ddd5a9" fill-opacity="0.8"/>
<circle cx="201.5" cy="375.5" r="3.5" fill="#ddd5a9" fill-opacity="0.8"/>
<circle cx="229.8" cy="369.5" r="3.5" fill="#ddd5a9" fill-opacity="0.8"/>
<circle cx="258.1" cy="367.1" r="3.5" fill="#ddd5a9" fill-opacity="0.8"/>
<circle cx="287.5" cy="356.9" r="3.5" fill="#ddd5a9" fill-opacity="0.8"/>
<circle cx="317.5" cy="341.2" r="3.5" fill="#ddd5a9" fill-opacity="0.8"/>
<circle cx="348.6" cy="320.9" r="3.5" fill="#ddd5a9" fill-opacity="0.8"/>
<circle cx="379.3" cy="284.7" r="3.5" fill="#ddd5a9" fill-opacity="0.8"/>
<polyline points="147.8,364.5 174.2,367.5 201.5,366 229.8,361.3 258.1,356 287.5,342.9 317.5,329.8 348.6,307.4 379.3,276" fill="none" stroke="#d4c6a0" stroke-opacity="0.8" stroke-width="2.4" stroke-linejoin="round" stroke-linecap="butt"/>
<circle cx="147.8" cy="364.5" r="3.5" fill="#d4c6a0" fill-opacity="0.8"/>
<circle cx="174.2" cy="367.5" r="3.5" fill="#d4c6a0" fill-opacity="0.8"/>
<circle cx="201.5" cy="366" r="3.5" fill="#d4c6a0" fill-opacity="0.8"/>
<circle cx="229.8" cy="361.3" r="3.5" fill="#d4c6a0" fill-opacity="0.8"/>
<circle cx="258.1" cy="356" r="3.5" fill="#d4c6a0" fill-opacity="0.8"/>
<circle cx="287.5" cy="342.9" r="3.5" fill="#d4c6a0" fill-opacity="0.8"/>
<circle cx="317.5" cy="329.8" r="3.5" fill="#d4c6a0" fill-opacity="0.8"/>
<circle cx="348.6" cy="307.4" r="3.5" fill="#d4c6a0" fill-opacity="0.8"/>
<circle cx="379.3" cy="276" r="3.5" fill="#d4c6a0" fill-opacity="0.8"/>
<polyline points="147.8,358 174.2,359.5 201.5,357 229.8,352.5 258.1,345 287.5,333.3 317.5,317.6 348.6,299.3 379.3,265.6" fill="none" stroke="#c8b295" stroke-opacity="0.8" stroke-width="2.4" stroke-linejoin="round" stroke-linecap="butt"/>
<circle cx="147.8" cy="358" r="3.5" fill="#c8b295" fill-opacity="0.8"/>
<circle cx="174.2" cy="359.5" r="3.5" fill="#c8b295" fill-opacity="0.8"/>
<circle cx="201.5" cy="357" r="3.5" fill="#c8b295" fill-opacity="0.8"/>
<circle cx="229.8" cy="352.5" r="3.5" fill="#c8b295" fill-opacity="0.8"/>
<circle cx="258.1" cy="345" r="3.5" fill="#c8b295" fill-opacity="0.8"/>
<circle cx="287.5" cy="333.3" r="3.5" fill="#c8b295" fill-opacity="0.8"/>
<circle cx="317.5" cy="317.6" r="3.5" fill="#c8b295" fill-opacity="0.8"/>
<circle cx="348.6" cy="299.3" r="3.5" fill="#c8b295" fill-opacity="0.8"/>
<circle cx="379.3" cy="265.6" r="3.5" fill="#c8b295" fill-opacity="0.8"/>
<polyline points="147.8,352 174.2,351.5 201.5,348.5 229.8,344.5 258.1,335.6 287.5,325.1 317.5,308.8 348.6,292.3 379.3,262.1" fill="none" stroke="#bc9e8a" stroke-opacity="0.8" stroke-width="2.4" stroke-linejoin="round" stroke-linecap="butt"/>
<circle cx="147.8" cy="352" r="3.5" fill="#bc9e8a" fill-opacity="0.8"/>
<circle cx="174.2" cy="351.5" r="3.5" fill="#bc9e8a" fill-opacity="0.8"/>
<circle cx="201.5" cy="348.5" r="3.5" fill="#bc9e8a" fill-opacity="0.8"/>
<circle cx="229.8" cy="344.5" r="3.5" fill="#bc9e8a" fill-opacity="0.8"/>
<circle cx="258.1" cy="335.6" r="3.5" fill="#bc9e8a" fill-opacity="0.8"/>
<circle cx="287.5" cy="325.1" r="3.5" fill="#bc9e8a" fill-opacity="0.8"/>
<circle cx="317.5" cy="308.8" r="3.5" fill="#bc9e8a" fill-opacity="0.8"/>
<circle cx="348.6" cy="292.3" r="3.5" fill="#bc9e8a" fill-opacity="0.8"/>
<circle cx="379.3" cy="262.1" r="3.5" fill="#bc9e8a" fill-opacity="0.8"/>
<polyline points="147.8,347 174.2,345 201.5,341 229.8,337 258.1,327.2 287.5,316.7 317.5,302.7 348.6,286.5 379.3,258.6" fill="none" stroke="#b1877e" stroke-opacity="0.8" stroke-width="2.4" stroke-linejoin="round" stroke-linecap="butt"/>
<circle cx="147.8" cy="347" r="3.5" fill="#b1877e" fill-opacity="0.8"/>
<circle cx="174.2" cy="345" r="3.5" fill="#b1877e" fill-opacity="0.8"/>
<circle cx="201.5" cy="341" r="3.5" fill="#b1877e" fill-opacity="0.8"/>
<circle cx="229.8" cy="337" r="3.5" fill="#b1877e" fill-opacity="0.8"/>
<circle cx="258.1" cy="327.2" r="3.5" fill="#b1877e" fill-opacity="0.8"/>
<circle cx="287.5" cy="316.7" r="3.5" fill="#b1877e" fill-opacity="0.8"/>
<circle cx="317.5" cy="302.7" r="3.5" fill="#b1877e" fill-opacity="0.8"/>
<circle cx="348.6" cy="286.5" r="3.5" fill="#b1877e" fill-opacity="0.8"/>
<circle cx="379.3" cy="258.6" r="3.5" fill="#b1877e" fill-opacity="0.8"/>
<polyline points="147.8,342.5 174.2,339.5 201.5,335 229.8,330.5 258.1,321.1 287.5,309.7 317.5,297.5 348.6,280.7 379.3,255.1" fill="none" stroke="#a66f76" stroke-opacity="0.8" stroke-width="2.4" stroke-linejoin="round" stroke-linecap="butt"/>
<circle cx="147.8" cy="342.5" r="3.5" fill="#a66f76" fill-opacity="0.8"/>
<circle cx="174.2" cy="339.5" r="3.5" fill="#a66f76" fill-opacity="0.8"/>
<circle cx="201.5" cy="335" r="3.5" fill="#a66f76" fill-opacity="0.8"/>
<circle cx="229.8" cy="330.5" r="3.5" fill="#a66f76" fill-opacity="0.8"/>
<circle cx="258.1" cy="321.1" r="3.5" fill="#a66f76" fill-opacity="0.8"/>
<circle cx="287.5" cy="309.7" r="3.5" fill="#a66f76" fill-opacity="0.8"/>
<circle cx="317.5" cy="297.5" r="3.5" fill="#a66f76" fill-opacity="0.8"/>
<circle cx="348.6" cy="280.7" r="3.5" fill="#a66f76" fill-opacity="0.8"/>
<circle cx="379.3" cy="255.1" r="3.5" fill="#a66f76" fill-opacity="0.8"/>
<polyline points="147.8,338 174.2,333.5 201.5,328.7 229.8,323.8 258.1,314.1 287.5,302.7 317.5,292.2 348.6,274.9 379.3,251.6" fill="none" stroke="#a46c74" stroke-opacity="0.8" stroke-width="2.4" stroke-linejoin="round" stroke-linecap="butt"/>
<circle cx="147.8" cy="338" r="3.5" fill="#a46c74" fill-opacity="0.8"/>
<circle cx="174.2" cy="333.5" r="3.5" fill="#a46c74" fill-opacity="0.8"/>
<circle cx="201.5" cy="328.7" r="3.5" fill="#a46c74" fill-opacity="0.8"/>
<circle cx="229.8" cy="323.8" r="3.5" fill="#a46c74" fill-opacity="0.8"/>
<circle cx="258.1" cy="314.1" r="3.5" fill="#a46c74" fill-opacity="0.8"/>
<circle cx="287.5" cy="302.7" r="3.5" fill="#a46c74" fill-opacity="0.8"/>
<circle cx="317.5" cy="292.2" r="3.5" fill="#a46c74" fill-opacity="0.8"/>
<circle cx="348.6" cy="274.9" r="3.5" fill="#a46c74" fill-opacity="0.8"/>
<circle cx="379.3" cy="251.6" r="3.5" fill="#a46c74" fill-opacity="0.8"/>
</g>
<g clip-path="url(#cc)"><polygon points="204,608.5 244.6,578.5 246.6,580 246.9,601.5 230,604.5" fill="#2d6a2c" fill-opacity="0.85"/></g><g clip-path="url(#cc)">
<polyline points="123,458 124.2,475.8 125.6,493.5 127.3,512.6 128.5,531.8 129.5,550.9 130,570 130.5,594.6 134,584" fill="none" stroke="#c8c8e2" stroke-opacity="0.8" stroke-width="2.4" stroke-linejoin="round" stroke-linecap="butt"/>
<circle cx="123" cy="458" r="3.5" fill="#c8c8e2" fill-opacity="0.8"/>
<circle cx="124.2" cy="475.8" r="3.5" fill="#c8c8e2" fill-opacity="0.8"/>
<circle cx="125.6" cy="493.5" r="3.5" fill="#c8c8e2" fill-opacity="0.8"/>
<circle cx="127.3" cy="512.6" r="3.5" fill="#c8c8e2" fill-opacity="0.8"/>
<circle cx="128.5" cy="531.8" r="3.5" fill="#c8c8e2" fill-opacity="0.8"/>
<circle cx="129.5" cy="550.9" r="3.5" fill="#c8c8e2" fill-opacity="0.8"/>
<circle cx="130" cy="570" r="3.5" fill="#c8c8e2" fill-opacity="0.8"/>
<circle cx="130.5" cy="594.6" r="3.5" fill="#c8c8e2" fill-opacity="0.8"/>
<circle cx="134" cy="584" r="3.5" fill="#c8c8e2" fill-opacity="0.8"/>
<polyline points="122.9,480 124,495 125.3,510 126.9,526.2 128.1,542.3 129,558.5 129.6,574.6 130.2,595.4 133.9,584.5" fill="none" stroke="#b0afd4" stroke-opacity="0.8" stroke-width="2.4" stroke-linejoin="round" stroke-linecap="butt"/>
<circle cx="122.9" cy="480" r="3.5" fill="#b0afd4" fill-opacity="0.8"/>
<circle cx="124" cy="495" r="3.5" fill="#b0afd4" fill-opacity="0.8"/>
<circle cx="125.3" cy="510" r="3.5" fill="#b0afd4" fill-opacity="0.8"/>
<circle cx="126.9" cy="526.2" r="3.5" fill="#b0afd4" fill-opacity="0.8"/>
<circle cx="128.1" cy="542.3" r="3.5" fill="#b0afd4" fill-opacity="0.8"/>
<circle cx="129" cy="558.5" r="3.5" fill="#b0afd4" fill-opacity="0.8"/>
<circle cx="129.6" cy="574.6" r="3.5" fill="#b0afd4" fill-opacity="0.8"/>
<circle cx="130.2" cy="595.4" r="3.5" fill="#b0afd4" fill-opacity="0.8"/>
<circle cx="133.9" cy="584.5" r="3.5" fill="#b0afd4" fill-opacity="0.8"/>
<polyline points="122.9,500 123.9,512.5 125.1,525 126.5,538.5 127.6,551.9 128.6,565.4 129.2,578.9 129.9,596.2 133.8,585" fill="none" stroke="#9a96c8" stroke-opacity="0.8" stroke-width="2.4" stroke-linejoin="round" stroke-linecap="butt"/>
<circle cx="122.9" cy="500" r="3.5" fill="#9a96c8" fill-opacity="0.8"/>
<circle cx="123.9" cy="512.5" r="3.5" fill="#9a96c8" fill-opacity="0.8"/>
<circle cx="125.1" cy="525" r="3.5" fill="#9a96c8" fill-opacity="0.8"/>
<circle cx="126.5" cy="538.5" r="3.5" fill="#9a96c8" fill-opacity="0.8"/>
<circle cx="127.6" cy="551.9" r="3.5" fill="#9a96c8" fill-opacity="0.8"/>
<circle cx="128.6" cy="565.4" r="3.5" fill="#9a96c8" fill-opacity="0.8"/>
<circle cx="129.2" cy="578.9" r="3.5" fill="#9a96c8" fill-opacity="0.8"/>
<circle cx="129.9" cy="596.2" r="3.5" fill="#9a96c8" fill-opacity="0.8"/>
<circle cx="133.8" cy="585" r="3.5" fill="#9a96c8" fill-opacity="0.8"/>
<polyline points="122.8,518 123.8,528.3 124.8,538.5 126.2,549.6 127.2,560.7 128.1,571.7 128.8,582.8 129.7,597 133.6,585.5" fill="none" stroke="#8480bc" stroke-opacity="0.8" stroke-width="2.4" stroke-linejoin="round" stroke-linecap="butt"/>
<circle cx="122.8" cy="518" r="3.5" fill="#8480bc" fill-opacity="0.8"/>
<circle cx="123.8" cy="528.3" r="3.5" fill="#8480bc" fill-opacity="0.8"/>
<circle cx="124.8" cy="538.5" r="3.5" fill="#8480bc" fill-opacity="0.8"/>
<circle cx="126.2" cy="549.6" r="3.5" fill="#8480bc" fill-opacity="0.8"/>
<circle cx="127.2" cy="560.7" r="3.5" fill="#8480bc" fill-opacity="0.8"/>
<circle cx="128.1" cy="571.7" r="3.5" fill="#8480bc" fill-opacity="0.8"/>
<circle cx="128.8" cy="582.8" r="3.5" fill="#8480bc" fill-opacity="0.8"/>
<circle cx="129.7" cy="597" r="3.5" fill="#8480bc" fill-opacity="0.8"/>
<circle cx="133.6" cy="585.5" r="3.5" fill="#8480bc" fill-opacity="0.8"/>
<polyline points="122.8,532 123.6,540.6 124.6,549.1 125.8,558.3 126.8,567.5 127.7,576.7 128.4,586 129.4,597.8 133.5,586" fill="none" stroke="#716aae" stroke-opacity="0.8" stroke-width="2.4" stroke-linejoin="round" stroke-linecap="butt"/>
<circle cx="122.8" cy="532" r="3.5" fill="#716aae" fill-opacity="0.8"/>
<circle cx="123.6" cy="540.6" r="3.5" fill="#716aae" fill-opacity="0.8"/>
<circle cx="124.6" cy="549.1" r="3.5" fill="#716aae" fill-opacity="0.8"/>
<circle cx="125.8" cy="558.3" r="3.5" fill="#716aae" fill-opacity="0.8"/>
<circle cx="126.8" cy="567.5" r="3.5" fill="#716aae" fill-opacity="0.8"/>
<circle cx="127.7" cy="576.7" r="3.5" fill="#716aae" fill-opacity="0.8"/>
<circle cx="128.4" cy="586" r="3.5" fill="#716aae" fill-opacity="0.8"/>
<circle cx="129.4" cy="597.8" r="3.5" fill="#716aae" fill-opacity="0.8"/>
<circle cx="133.5" cy="586" r="3.5" fill="#716aae" fill-opacity="0.8"/>
<polyline points="122.7,538 123.5,545.9 124.3,553.8 125.4,562.2 126.3,570.7 127.2,579.2 128,587.7 129.1,598.6 133.4,586.5" fill="none" stroke="#6052a2" stroke-opacity="0.8" stroke-width="2.4" stroke-linejoin="round" stroke-linecap="butt"/>
<circle cx="122.7" cy="538" r="3.5" fill="#6052a2" fill-opacity="0.8"/>
<circle cx="123.5" cy="545.9" r="3.5" fill="#6052a2" fill-opacity="0.8"/>
<circle cx="124.3" cy="553.8" r="3.5" fill="#6052a2" fill-opacity="0.8"/>
<circle cx="125.4" cy="562.2" r="3.5" fill="#6052a2" fill-opacity="0.8"/>
<circle cx="126.3" cy="570.7" r="3.5" fill="#6052a2" fill-opacity="0.8"/>
<circle cx="127.2" cy="579.2" r="3.5" fill="#6052a2" fill-opacity="0.8"/>
<circle cx="128" cy="587.7" r="3.5" fill="#6052a2" fill-opacity="0.8"/>
<circle cx="129.1" cy="598.6" r="3.5" fill="#6052a2" fill-opacity="0.8"/>
<circle cx="133.4" cy="586.5" r="3.5" fill="#6052a2" fill-opacity="0.8"/>
<polyline points="122.6,542 123.3,549.5 124.1,556.9 125,565 125.9,573 126.7,581 127.6,589.1 128.9,599.4 133.2,587" fill="none" stroke="#503a96" stroke-opacity="0.8" stroke-width="2.4" stroke-linejoin="round" stroke-linecap="butt"/>
<circle cx="122.6" cy="542" r="3.5" fill="#503a96" fill-opacity="0.8"/>
<circle cx="123.3" cy="549.5" r="3.5" fill="#503a96" fill-opacity="0.8"/>
<circle cx="124.1" cy="556.9" r="3.5" fill="#503a96" fill-opacity="0.8"/>
<circle cx="125" cy="565" r="3.5" fill="#503a96" fill-opacity="0.8"/>
<circle cx="125.9" cy="573" r="3.5" fill="#503a96" fill-opacity="0.8"/>
<circle cx="126.7" cy="581" r="3.5" fill="#503a96" fill-opacity="0.8"/>
<circle cx="127.6" cy="589.1" r="3.5" fill="#503a96" fill-opacity="0.8"/>
<circle cx="128.9" cy="599.4" r="3.5" fill="#503a96" fill-opacity="0.8"/>
<circle cx="133.2" cy="587" r="3.5" fill="#503a96" fill-opacity="0.8"/>
<polyline points="122.6,545.5 123.2,552.6 123.8,559.7 124.7,567.4 125.4,575 126.3,582.7 127.2,590.4 128.6,600.2 133.1,587.5" fill="none" stroke="#44208c" stroke-opacity="0.8" stroke-width="2.4" stroke-linejoin="round" stroke-linecap="butt"/>
<circle cx="122.6" cy="545.5" r="3.5" fill="#44208c" fill-opacity="0.8"/>
<circle cx="123.2" cy="552.6" r="3.5" fill="#44208c" fill-opacity="0.8"/>
<circle cx="123.8" cy="559.7" r="3.5" fill="#44208c" fill-opacity="0.8"/>
<circle cx="124.7" cy="567.4" r="3.5" fill="#44208c" fill-opacity="0.8"/>
<circle cx="125.4" cy="575" r="3.5" fill="#44208c" fill-opacity="0.8"/>
<circle cx="126.3" cy="582.7" r="3.5" fill="#44208c" fill-opacity="0.8"/>
<circle cx="127.2" cy="590.4" r="3.5" fill="#44208c" fill-opacity="0.8"/>
<circle cx="128.6" cy="600.2" r="3.5" fill="#44208c" fill-opacity="0.8"/>
<circle cx="133.1" cy="587.5" r="3.5" fill="#44208c" fill-opacity="0.8"/>
<polyline points="122.5,548.8 123,555.6 123.6,562.4 124.3,569.7 125,577 125.8,584.3 126.8,591.6 128.3,601 133,588" fill="none" stroke="#3d0c8a" stroke-opacity="0.8" stroke-width="2.4" stroke-linejoin="round" stroke-linecap="butt"/>
<circle cx="122.5" cy="548.8" r="3.5" fill="#3d0c8a" fill-opacity="0.8"/>
<circle cx="123" cy="555.6" r="3.5" fill="#3d0c8a" fill-opacity="0.8"/>
<circle cx="123.6" cy="562.4" r="3.5" fill="#3d0c8a" fill-opacity="0.8"/>
<circle cx="124.3" cy="569.7" r="3.5" fill="#3d0c8a" fill-opacity="0.8"/>
<circle cx="125" cy="577" r="3.5" fill="#3d0c8a" fill-opacity="0.8"/>
<circle cx="125.8" cy="584.3" r="3.5" fill="#3d0c8a" fill-opacity="0.8"/>
<circle cx="126.8" cy="591.6" r="3.5" fill="#3d0c8a" fill-opacity="0.8"/>
<circle cx="128.3" cy="601" r="3.5" fill="#3d0c8a" fill-opacity="0.8"/>
<circle cx="133" cy="588" r="3.5" fill="#3d0c8a" fill-opacity="0.8"/>
<polyline points="134.4,467 148.1,490 161.8,503.8 175.5,521.2 189.2,544.5 202.9,565.2 216.6,585.2 230.3,600 244.5,609" fill="none" stroke="#c0e2b4" stroke-opacity="0.8" stroke-width="2.4" stroke-linejoin="round" stroke-linecap="butt"/>
<circle cx="134.4" cy="467" r="3.5" fill="#c0e2b4" fill-opacity="0.8"/>
<circle cx="148.1" cy="490" r="3.5" fill="#c0e2b4" fill-opacity="0.8"/>
<circle cx="161.8" cy="503.8" r="3.5" fill="#c0e2b4" fill-opacity="0.8"/>
<circle cx="175.5" cy="521.2" r="3.5" fill="#c0e2b4" fill-opacity="0.8"/>
<circle cx="189.2" cy="544.5" r="3.5" fill="#c0e2b4" fill-opacity="0.8"/>
<circle cx="202.9" cy="565.2" r="3.5" fill="#c0e2b4" fill-opacity="0.8"/>
<circle cx="216.6" cy="585.2" r="3.5" fill="#c0e2b4" fill-opacity="0.8"/>
<circle cx="230.3" cy="600" r="3.5" fill="#c0e2b4" fill-opacity="0.8"/>
<circle cx="244.5" cy="609" r="3.5" fill="#c0e2b4" fill-opacity="0.8"/>
<polyline points="134.4,525 148.1,543.8 161.8,557 175.5,573.8 189.2,588 202.9,599 216.6,606 230.3,609 244.5,608" fill="none" stroke="#a4d398" stroke-opacity="0.8" stroke-width="2.4" stroke-linejoin="round" stroke-linecap="butt"/>
<circle cx="134.4" cy="525" r="3.5" fill="#a4d398" fill-opacity="0.8"/>
<circle cx="148.1" cy="543.8" r="3.5" fill="#a4d398" fill-opacity="0.8"/>
<circle cx="161.8" cy="557" r="3.5" fill="#a4d398" fill-opacity="0.8"/>
<circle cx="175.5" cy="573.8" r="3.5" fill="#a4d398" fill-opacity="0.8"/>
<circle cx="189.2" cy="588" r="3.5" fill="#a4d398" fill-opacity="0.8"/>
<circle cx="202.9" cy="599" r="3.5" fill="#a4d398" fill-opacity="0.8"/>
<circle cx="216.6" cy="606" r="3.5" fill="#a4d398" fill-opacity="0.8"/>
<circle cx="230.3" cy="609" r="3.5" fill="#a4d398" fill-opacity="0.8"/>
<circle cx="244.5" cy="608" r="3.5" fill="#a4d398" fill-opacity="0.8"/>
<polyline points="134.4,558.5 148.1,572 161.8,583.5 175.5,595 189.2,604.6 202.9,610 216.6,610 230.3,607 244.5,604" fill="none" stroke="#88c380" stroke-opacity="0.8" stroke-width="2.4" stroke-linejoin="round" stroke-linecap="butt"/>
<circle cx="134.4" cy="558.5" r="3.5" fill="#88c380" fill-opacity="0.8"/>
<circle cx="148.1" cy="572" r="3.5" fill="#88c380" fill-opacity="0.8"/>
<circle cx="161.8" cy="583.5" r="3.5" fill="#88c380" fill-opacity="0.8"/>
<circle cx="175.5" cy="595" r="3.5" fill="#88c380" fill-opacity="0.8"/>
<circle cx="189.2" cy="604.6" r="3.5" fill="#88c380" fill-opacity="0.8"/>
<circle cx="202.9" cy="610" r="3.5" fill="#88c380" fill-opacity="0.8"/>
<circle cx="216.6" cy="610" r="3.5" fill="#88c380" fill-opacity="0.8"/>
<circle cx="230.3" cy="607" r="3.5" fill="#88c380" fill-opacity="0.8"/>
<circle cx="244.5" cy="604" r="3.5" fill="#88c380" fill-opacity="0.8"/>
<polyline points="134.4,579.6 148.1,586.3 161.8,595 175.5,603 189.2,609 202.9,610 216.6,607 230.3,604.5 244.5,602" fill="none" stroke="#6aaf68" stroke-opacity="0.8" stroke-width="2.4" stroke-linejoin="round" stroke-linecap="butt"/>
<circle cx="134.4" cy="579.6" r="3.5" fill="#6aaf68" fill-opacity="0.8"/>
<circle cx="148.1" cy="586.3" r="3.5" fill="#6aaf68" fill-opacity="0.8"/>
<circle cx="161.8" cy="595" r="3.5" fill="#6aaf68" fill-opacity="0.8"/>
<circle cx="175.5" cy="603" r="3.5" fill="#6aaf68" fill-opacity="0.8"/>
<circle cx="189.2" cy="609" r="3.5" fill="#6aaf68" fill-opacity="0.8"/>
<circle cx="202.9" cy="610" r="3.5" fill="#6aaf68" fill-opacity="0.8"/>
<circle cx="216.6" cy="607" r="3.5" fill="#6aaf68" fill-opacity="0.8"/>
<circle cx="230.3" cy="604.5" r="3.5" fill="#6aaf68" fill-opacity="0.8"/>
<circle cx="244.5" cy="602" r="3.5" fill="#6aaf68" fill-opacity="0.8"/>
<polyline points="134.4,591.2 148.1,596.2 161.8,601.2 175.5,612.5 189.2,611 202.9,607.5 216.6,604.7 230.3,601.9 244.5,599" fill="none" stroke="#519c56" stroke-opacity="0.8" stroke-width="2.4" stroke-linejoin="round" stroke-linecap="butt"/>
<circle cx="134.4" cy="591.2" r="3.5" fill="#519c56" fill-opacity="0.8"/>
<circle cx="148.1" cy="596.2" r="3.5" fill="#519c56" fill-opacity="0.8"/>
<circle cx="161.8" cy="601.2" r="3.5" fill="#519c56" fill-opacity="0.8"/>
<circle cx="175.5" cy="612.5" r="3.5" fill="#519c56" fill-opacity="0.8"/>
<circle cx="189.2" cy="611" r="3.5" fill="#519c56" fill-opacity="0.8"/>
<circle cx="202.9" cy="607.5" r="3.5" fill="#519c56" fill-opacity="0.8"/>
<circle cx="216.6" cy="604.7" r="3.5" fill="#519c56" fill-opacity="0.8"/>
<circle cx="230.3" cy="601.9" r="3.5" fill="#519c56" fill-opacity="0.8"/>
<circle cx="244.5" cy="599" r="3.5" fill="#519c56" fill-opacity="0.8"/>
<polyline points="134.4,596 148.1,601 161.8,606 175.5,612.5 189.2,611 202.9,607.5 216.6,603.2 230.3,598.9 244.5,594.5" fill="none" stroke="#3e8847" stroke-opacity="0.8" stroke-width="2.4" stroke-linejoin="round" stroke-linecap="butt"/>
<circle cx="134.4" cy="596" r="3.5" fill="#3e8847" fill-opacity="0.8"/>
<circle cx="148.1" cy="601" r="3.5" fill="#3e8847" fill-opacity="0.8"/>
<circle cx="161.8" cy="606" r="3.5" fill="#3e8847" fill-opacity="0.8"/>
<circle cx="175.5" cy="612.5" r="3.5" fill="#3e8847" fill-opacity="0.8"/>
<circle cx="189.2" cy="611" r="3.5" fill="#3e8847" fill-opacity="0.8"/>
<circle cx="202.9" cy="607.5" r="3.5" fill="#3e8847" fill-opacity="0.8"/>
<circle cx="216.6" cy="603.2" r="3.5" fill="#3e8847" fill-opacity="0.8"/>
<circle cx="230.3" cy="598.9" r="3.5" fill="#3e8847" fill-opacity="0.8"/>
<circle cx="244.5" cy="594.5" r="3.5" fill="#3e8847" fill-opacity="0.8"/>
<polyline points="134.4,598 148.1,603 161.8,608 175.5,612.5 189.2,611 202.9,607.5 216.6,601.7 230.3,596 244.5,590" fill="none" stroke="#2e743a" stroke-opacity="0.8" stroke-width="2.4" stroke-linejoin="round" stroke-linecap="butt"/>
<circle cx="134.4" cy="598" r="3.5" fill="#2e743a" fill-opacity="0.8"/>
<circle cx="148.1" cy="603" r="3.5" fill="#2e743a" fill-opacity="0.8"/>
<circle cx="161.8" cy="608" r="3.5" fill="#2e743a" fill-opacity="0.8"/>
<circle cx="175.5" cy="612.5" r="3.5" fill="#2e743a" fill-opacity="0.8"/>
<circle cx="189.2" cy="611" r="3.5" fill="#2e743a" fill-opacity="0.8"/>
<circle cx="202.9" cy="607.5" r="3.5" fill="#2e743a" fill-opacity="0.8"/>
<circle cx="216.6" cy="601.7" r="3.5" fill="#2e743a" fill-opacity="0.8"/>
<circle cx="230.3" cy="596" r="3.5" fill="#2e743a" fill-opacity="0.8"/>
<circle cx="244.5" cy="590" r="3.5" fill="#2e743a" fill-opacity="0.8"/>
<polyline points="134.4,600 148.1,605 161.8,610 175.5,612.5 189.2,611 202.9,607.5 216.6,600.1 230.3,592.7 244.5,585" fill="none" stroke="#22602f" stroke-opacity="0.8" stroke-width="2.4" stroke-linejoin="round" stroke-linecap="butt"/>
<circle cx="134.4" cy="600" r="3.5" fill="#22602f" fill-opacity="0.8"/>
<circle cx="148.1" cy="605" r="3.5" fill="#22602f" fill-opacity="0.8"/>
<circle cx="161.8" cy="610" r="3.5" fill="#22602f" fill-opacity="0.8"/>
<circle cx="175.5" cy="612.5" r="3.5" fill="#22602f" fill-opacity="0.8"/>
<circle cx="189.2" cy="611" r="3.5" fill="#22602f" fill-opacity="0.8"/>
<circle cx="202.9" cy="607.5" r="3.5" fill="#22602f" fill-opacity="0.8"/>
<circle cx="216.6" cy="600.1" r="3.5" fill="#22602f" fill-opacity="0.8"/>
<circle cx="230.3" cy="592.7" r="3.5" fill="#22602f" fill-opacity="0.8"/>
<circle cx="244.5" cy="585" r="3.5" fill="#22602f" fill-opacity="0.8"/>
<polyline points="134.4,601 148.1,606 161.8,611 175.5,612.5 189.2,611 202.9,607.5 216.6,597.9 230.3,588.4 244.5,578.5" fill="none" stroke="#194a22" stroke-opacity="0.8" stroke-width="2.4" stroke-linejoin="round" stroke-linecap="butt"/>
<circle cx="134.4" cy="601" r="3.5" fill="#194a22" fill-opacity="0.8"/>
<circle cx="148.1" cy="606" r="3.5" fill="#194a22" fill-opacity="0.8"/>
<circle cx="161.8" cy="611" r="3.5" fill="#194a22" fill-opacity="0.8"/>
<circle cx="175.5" cy="612.5" r="3.5" fill="#194a22" fill-opacity="0.8"/>
<circle cx="189.2" cy="611" r="3.5" fill="#194a22" fill-opacity="0.8"/>
<circle cx="202.9" cy="607.5" r="3.5" fill="#194a22" fill-opacity="0.8"/>
<circle cx="216.6" cy="597.9" r="3.5" fill="#194a22" fill-opacity="0.8"/>
<circle cx="230.3" cy="588.4" r="3.5" fill="#194a22" fill-opacity="0.8"/>
<circle cx="244.5" cy="578.5" r="3.5" fill="#194a22" fill-opacity="0.8"/>
<polyline points="147.8,468 173.8,487.5 201.5,507 230,522.5 258.5,543.8 287.5,566.9 317.5,587.1 348.3,600.7 379.8,606" fill="none" stroke="#ececc8" stroke-opacity="0.8" stroke-width="2.4" stroke-linejoin="round" stroke-linecap="butt"/>
<circle cx="147.8" cy="468" r="3.5" fill="#ececc8" fill-opacity="0.8"/>
<circle cx="173.8" cy="487.5" r="3.5" fill="#ececc8" fill-opacity="0.8"/>
<circle cx="201.5" cy="507" r="3.5" fill="#ececc8" fill-opacity="0.8"/>
<circle cx="230" cy="522.5" r="3.5" fill="#ececc8" fill-opacity="0.8"/>
<circle cx="258.5" cy="543.8" r="3.5" fill="#ececc8" fill-opacity="0.8"/>
<circle cx="287.5" cy="566.9" r="3.5" fill="#ececc8" fill-opacity="0.8"/>
<circle cx="317.5" cy="587.1" r="3.5" fill="#ececc8" fill-opacity="0.8"/>
<circle cx="348.3" cy="600.7" r="3.5" fill="#ececc8" fill-opacity="0.8"/>
<circle cx="379.8" cy="606" r="3.5" fill="#ececc8" fill-opacity="0.8"/>
<polyline points="147.8,528 173.8,544.5 201.5,558 230,571.2 258.5,584.8 287.5,601.5 317.5,612 348.3,615.5 379.8,609.5" fill="none" stroke="#e5e3b8" stroke-opacity="0.8" stroke-width="2.4" stroke-linejoin="round" stroke-linecap="butt"/>
<circle cx="147.8" cy="528" r="3.5" fill="#e5e3b8" fill-opacity="0.8"/>
<circle cx="173.8" cy="544.5" r="3.5" fill="#e5e3b8" fill-opacity="0.8"/>
<circle cx="201.5" cy="558" r="3.5" fill="#e5e3b8" fill-opacity="0.8"/>
<circle cx="230" cy="571.2" r="3.5" fill="#e5e3b8" fill-opacity="0.8"/>
<circle cx="258.5" cy="584.8" r="3.5" fill="#e5e3b8" fill-opacity="0.8"/>
<circle cx="287.5" cy="601.5" r="3.5" fill="#e5e3b8" fill-opacity="0.8"/>
<circle cx="317.5" cy="612" r="3.5" fill="#e5e3b8" fill-opacity="0.8"/>
<circle cx="348.3" cy="615.5" r="3.5" fill="#e5e3b8" fill-opacity="0.8"/>
<circle cx="379.8" cy="609.5" r="3.5" fill="#e5e3b8" fill-opacity="0.8"/>
<polyline points="147.8,561.3 173.8,573.8 201.5,582.5 230,594 258.5,604.4 287.5,610.5 317.5,617 348.3,614.5 379.8,606" fill="none" stroke="#ddd5a9" stroke-opacity="0.8" stroke-width="2.4" stroke-linejoin="round" stroke-linecap="butt"/>
<circle cx="147.8" cy="561.3" r="3.5" fill="#ddd5a9" fill-opacity="0.8"/>
<circle cx="173.8" cy="573.8" r="3.5" fill="#ddd5a9" fill-opacity="0.8"/>
<circle cx="201.5" cy="582.5" r="3.5" fill="#ddd5a9" fill-opacity="0.8"/>
<circle cx="230" cy="594" r="3.5" fill="#ddd5a9" fill-opacity="0.8"/>
<circle cx="258.5" cy="604.4" r="3.5" fill="#ddd5a9" fill-opacity="0.8"/>
<circle cx="287.5" cy="610.5" r="3.5" fill="#ddd5a9" fill-opacity="0.8"/>
<circle cx="317.5" cy="617" r="3.5" fill="#ddd5a9" fill-opacity="0.8"/>
<circle cx="348.3" cy="614.5" r="3.5" fill="#ddd5a9" fill-opacity="0.8"/>
<circle cx="379.8" cy="606" r="3.5" fill="#ddd5a9" fill-opacity="0.8"/>
<polyline points="147.8,581.5 173.8,591.2 201.5,598 230,605 258.5,611 287.5,615.5 317.5,616.5 348.3,612.5 379.8,602.5" fill="none" stroke="#d4c6a0" stroke-opacity="0.8" stroke-width="2.4" stroke-linejoin="round" stroke-linecap="butt"/>
<circle cx="147.8" cy="581.5" r="3.5" fill="#d4c6a0" fill-opacity="0.8"/>
<circle cx="173.8" cy="591.2" r="3.5" fill="#d4c6a0" fill-opacity="0.8"/>
<circle cx="201.5" cy="598" r="3.5" fill="#d4c6a0" fill-opacity="0.8"/>
<circle cx="230" cy="605" r="3.5" fill="#d4c6a0" fill-opacity="0.8"/>
<circle cx="258.5" cy="611" r="3.5" fill="#d4c6a0" fill-opacity="0.8"/>
<circle cx="287.5" cy="615.5" r="3.5" fill="#d4c6a0" fill-opacity="0.8"/>
<circle cx="317.5" cy="616.5" r="3.5" fill="#d4c6a0" fill-opacity="0.8"/>
<circle cx="348.3" cy="612.5" r="3.5" fill="#d4c6a0" fill-opacity="0.8"/>
<circle cx="379.8" cy="602.5" r="3.5" fill="#d4c6a0" fill-opacity="0.8"/>
<polyline points="147.8,592 173.8,600 201.5,606 230,611 258.5,614.5 287.5,617 317.5,615.5 348.3,610.5 379.8,598.5" fill="none" stroke="#c8b295" stroke-opacity="0.8" stroke-width="2.4" stroke-linejoin="round" stroke-linecap="butt"/>
<circle cx="147.8" cy="592" r="3.5" fill="#c8b295" fill-opacity="0.8"/>
<circle cx="173.8" cy="600" r="3.5" fill="#c8b295" fill-opacity="0.8"/>
<circle cx="201.5" cy="606" r="3.5" fill="#c8b295" fill-opacity="0.8"/>
<circle cx="230" cy="611" r="3.5" fill="#c8b295" fill-opacity="0.8"/>
<circle cx="258.5" cy="614.5" r="3.5" fill="#c8b295" fill-opacity="0.8"/>
<circle cx="287.5" cy="617" r="3.5" fill="#c8b295" fill-opacity="0.8"/>
<circle cx="317.5" cy="615.5" r="3.5" fill="#c8b295" fill-opacity="0.8"/>
<circle cx="348.3" cy="610.5" r="3.5" fill="#c8b295" fill-opacity="0.8"/>
<circle cx="379.8" cy="598.5" r="3.5" fill="#c8b295" fill-opacity="0.8"/>
<polyline points="147.8,597 173.8,605 201.5,610 230,614 258.5,616.5 287.5,617 317.5,614 348.3,607.5 379.8,595" fill="none" stroke="#bc9e8a" stroke-opacity="0.8" stroke-width="2.4" stroke-linejoin="round" stroke-linecap="butt"/>
<circle cx="147.8" cy="597" r="3.5" fill="#bc9e8a" fill-opacity="0.8"/>
<circle cx="173.8" cy="605" r="3.5" fill="#bc9e8a" fill-opacity="0.8"/>
<circle cx="201.5" cy="610" r="3.5" fill="#bc9e8a" fill-opacity="0.8"/>
<circle cx="230" cy="614" r="3.5" fill="#bc9e8a" fill-opacity="0.8"/>
<circle cx="258.5" cy="616.5" r="3.5" fill="#bc9e8a" fill-opacity="0.8"/>
<circle cx="287.5" cy="617" r="3.5" fill="#bc9e8a" fill-opacity="0.8"/>
<circle cx="317.5" cy="614" r="3.5" fill="#bc9e8a" fill-opacity="0.8"/>
<circle cx="348.3" cy="607.5" r="3.5" fill="#bc9e8a" fill-opacity="0.8"/>
<circle cx="379.8" cy="595" r="3.5" fill="#bc9e8a" fill-opacity="0.8"/>
<polyline points="147.8,600 173.8,608 201.5,612.5 230,615.5 258.5,617.5 287.5,616.5 317.5,612 348.3,605 379.8,591.5" fill="none" stroke="#b1877e" stroke-opacity="0.8" stroke-width="2.4" stroke-linejoin="round" stroke-linecap="butt"/>
<circle cx="147.8" cy="600" r="3.5" fill="#b1877e" fill-opacity="0.8"/>
<circle cx="173.8" cy="608" r="3.5" fill="#b1877e" fill-opacity="0.8"/>
<circle cx="201.5" cy="612.5" r="3.5" fill="#b1877e" fill-opacity="0.8"/>
<circle cx="230" cy="615.5" r="3.5" fill="#b1877e" fill-opacity="0.8"/>
<circle cx="258.5" cy="617.5" r="3.5" fill="#b1877e" fill-opacity="0.8"/>
<circle cx="287.5" cy="616.5" r="3.5" fill="#b1877e" fill-opacity="0.8"/>
<circle cx="317.5" cy="612" r="3.5" fill="#b1877e" fill-opacity="0.8"/>
<circle cx="348.3" cy="605" r="3.5" fill="#b1877e" fill-opacity="0.8"/>
<circle cx="379.8" cy="591.5" r="3.5" fill="#b1877e" fill-opacity="0.8"/>
<polyline points="147.8,601.5 173.8,609.5 201.5,613.5 230,616.5 258.5,618 287.5,615.5 317.5,610.5 348.3,603 379.8,589" fill="none" stroke="#a66f76" stroke-opacity="0.8" stroke-width="2.4" stroke-linejoin="round" stroke-linecap="butt"/>
<circle cx="147.8" cy="601.5" r="3.5" fill="#a66f76" fill-opacity="0.8"/>
<circle cx="173.8" cy="609.5" r="3.5" fill="#a66f76" fill-opacity="0.8"/>
<circle cx="201.5" cy="613.5" r="3.5" fill="#a66f76" fill-opacity="0.8"/>
<circle cx="230" cy="616.5" r="3.5" fill="#a66f76" fill-opacity="0.8"/>
<circle cx="258.5" cy="618" r="3.5" fill="#a66f76" fill-opacity="0.8"/>
<circle cx="287.5" cy="615.5" r="3.5" fill="#a66f76" fill-opacity="0.8"/>
<circle cx="317.5" cy="610.5" r="3.5" fill="#a66f76" fill-opacity="0.8"/>
<circle cx="348.3" cy="603" r="3.5" fill="#a66f76" fill-opacity="0.8"/>
<circle cx="379.8" cy="589" r="3.5" fill="#a66f76" fill-opacity="0.8"/>
<polyline points="147.8,602.7 173.8,610.4 201.5,614.2 230,616.8 258.5,618 287.5,613.8 317.5,609.2 348.3,601.2 379.8,586.6" fill="none" stroke="#a46c74" stroke-opacity="0.8" stroke-width="2.4" stroke-linejoin="round" stroke-linecap="butt"/>
<circle cx="147.8" cy="602.7" r="3.5" fill="#a46c74" fill-opacity="0.8"/>
<circle cx="173.8" cy="610.4" r="3.5" fill="#a46c74" fill-opacity="0.8"/>
<circle cx="201.5" cy="614.2" r="3.5" fill="#a46c74" fill-opacity="0.8"/>
<circle cx="230" cy="616.8" r="3.5" fill="#a46c74" fill-opacity="0.8"/>
<circle cx="258.5" cy="618" r="3.5" fill="#a46c74" fill-opacity="0.8"/>
<circle cx="287.5" cy="613.8" r="3.5" fill="#a46c74" fill-opacity="0.8"/>
<circle cx="317.5" cy="609.2" r="3.5" fill="#a46c74" fill-opacity="0.8"/>
<circle cx="348.3" cy="601.2" r="3.5" fill="#a46c74" fill-opacity="0.8"/>
<circle cx="379.8" cy="586.6" r="3.5" fill="#a46c74" fill-opacity="0.8"/>
</g>
<rect x="99.4" y="2.4" width="333.7" height="183" fill="none" stroke="#3a3a3a" stroke-width="1.3"/>
<path d="M128.4 185.4v-4.2M128.4 2.4v4.2M199.4 185.4v-4.2M199.4 2.4v4.2M270.4 185.4v-4.2M270.4 2.4v4.2M341.3 185.4v-4.2M341.3 2.4v4.2M412.3 185.4v-4.2M412.3 2.4v4.2M99.4 12h4.2M433.1 12h-4.2M99.4 95.6h4.2M433.1 95.6h-4.2M99.4 179.3h4.2M433.1 179.3h-4.2" stroke="#222" stroke-width="1.2" fill="none"/>
<text x="128.4" y="204" text-anchor="middle" font-size="19.8" font-family="'DejaVu Sans', 'Liberation Sans', sans-serif" fill="#111">0.68</text>
<text x="199.4" y="204" text-anchor="middle" font-size="19.8" font-family="'DejaVu Sans', 'Liberation Sans', sans-serif" fill="#111">0.70</text>
<text x="270.4" y="204" text-anchor="middle" font-size="19.8" font-family="'DejaVu Sans', 'Liberation Sans', sans-serif" fill="#111">0.72</text>
<text x="341.3" y="204" text-anchor="middle" font-size="19.8" font-family="'DejaVu Sans', 'Liberation Sans', sans-serif" fill="#111">0.74</text>
<text x="412.3" y="204" text-anchor="middle" font-size="19.8" font-family="'DejaVu Sans', 'Liberation Sans', sans-serif" fill="#111">0.76</text>
<text x="96.1" y="19.9" text-anchor="end" font-size="19.8" font-family="'DejaVu Sans', 'Liberation Sans', sans-serif" fill="#111">0.4</text>
<text x="96.1" y="103.5" text-anchor="end" font-size="19.8" font-family="'DejaVu Sans', 'Liberation Sans', sans-serif" fill="#111">0.3</text>
<text x="96.1" y="187.2" text-anchor="end" font-size="19.8" font-family="'DejaVu Sans', 'Liberation Sans', sans-serif" fill="#111">0.2</text>
<rect x="99.4" y="222.8" width="333.7" height="183.2" fill="none" stroke="#3a3a3a" stroke-width="1.3"/>
<path d="M116.4 406v-4.2M116.4 222.8v4.2M199.2 406v-4.2M199.2 222.8v4.2M282 406v-4.2M282 222.8v4.2M364.8 406v-4.2M364.8 222.8v4.2M99.4 230h4.2M433.1 230h-4.2M99.4 281.6h4.2M433.1 281.6h-4.2M99.4 333.1h4.2M433.1 333.1h-4.2M99.4 384.7h4.2M433.1 384.7h-4.2" stroke="#222" stroke-width="1.2" fill="none"/>
<text x="116.4" y="424.6" text-anchor="middle" font-size="19.8" font-family="'DejaVu Sans', 'Liberation Sans', sans-serif" fill="#111">2.9</text>
<text x="199.2" y="424.6" text-anchor="middle" font-size="19.8" font-family="'DejaVu Sans', 'Liberation Sans', sans-serif" fill="#111">3.0</text>
<text x="282" y="424.6" text-anchor="middle" font-size="19.8" font-family="'DejaVu Sans', 'Liberation Sans', sans-serif" fill="#111">3.1</text>
<text x="364.8" y="424.6" text-anchor="middle" font-size="19.8" font-family="'DejaVu Sans', 'Liberation Sans', sans-serif" fill="#111">3.2</text>
<text x="96.1" y="237.9" text-anchor="end" font-size="19.8" font-family="'DejaVu Sans', 'Liberation Sans', sans-serif" fill="#111">0.18</text>
<text x="96.1" y="289.5" text-anchor="end" font-size="19.8" font-family="'DejaVu Sans', 'Liberation Sans', sans-serif" fill="#111">0.16</text>
<text x="96.1" y="341" text-anchor="end" font-size="19.8" font-family="'DejaVu Sans', 'Liberation Sans', sans-serif" fill="#111">0.14</text>
<text x="96.1" y="392.6" text-anchor="end" font-size="19.8" font-family="'DejaVu Sans', 'Liberation Sans', sans-serif" fill="#111">0.12</text>
<rect x="99.4" y="443.4" width="333.7" height="183.6" fill="none" stroke="#3a3a3a" stroke-width="1.3"/>
<path d="M199.4 627v-4.2M199.4 443.4v4.2M323.7 627v-4.2M323.7 443.4v4.2M99.4 480h4.2M433.1 480h-4.2M99.4 536.2h4.2M433.1 536.2h-4.2M99.4 592.3h4.2M433.1 592.3h-4.2" stroke="#222" stroke-width="1.2" fill="none"/>
<text x="199.4" y="645.6" text-anchor="middle" font-size="19.8" font-family="'DejaVu Sans', 'Liberation Sans', sans-serif" fill="#111">10.0</text>
<text x="323.7" y="645.6" text-anchor="middle" font-size="19.8" font-family="'DejaVu Sans', 'Liberation Sans', sans-serif" fill="#111">10.5</text>
<text x="96.1" y="487.9" text-anchor="end" font-size="19.8" font-family="'DejaVu Sans', 'Liberation Sans', sans-serif" fill="#111">0.125</text>
<text x="96.1" y="544.1" text-anchor="end" font-size="19.8" font-family="'DejaVu Sans', 'Liberation Sans', sans-serif" fill="#111">0.100</text>
<text x="96.1" y="600.2" text-anchor="end" font-size="19.8" font-family="'DejaVu Sans', 'Liberation Sans', sans-serif" fill="#111">0.075</text>
<text x="135.6" y="41.2" font-size="23.3" font-family="'Liberation Sans', 'DejaVu Sans', sans-serif" fill="#111" stroke="#111" stroke-width="0.35">(a)</text>
<text x="134.6" y="263.1" font-size="23.3" font-family="'Liberation Sans', 'DejaVu Sans', sans-serif" fill="#111" stroke="#111" stroke-width="0.35">(b)</text>
<text x="136.8" y="481.5" font-size="23.3" font-family="'Liberation Sans', 'DejaVu Sans', sans-serif" fill="#111" stroke="#111" stroke-width="0.35">(c)</text>
<text x="420.2" y="32.0" text-anchor="end" font-size="23.4" font-family="'Liberation Sans', 'DejaVu Sans', sans-serif" fill="#111" stroke="#111" stroke-width="0.35">t = 7 mm</text>
<text x="420.2" y="251.3" text-anchor="end" font-size="23.4" font-family="'Liberation Sans', 'DejaVu Sans', sans-serif" fill="#111" stroke="#111" stroke-width="0.35">t = 30 mm</text>
<text x="420.2" y="471.5" text-anchor="end" font-size="23.4" font-family="'Liberation Sans', 'DejaVu Sans', sans-serif" fill="#111" stroke="#111" stroke-width="0.35">t = 100 mm</text>
<rect x="438.5" y="2.2" width="26.2" height="23.73" fill="#a46c74"/>
<rect x="438.5" y="25.33" width="26.2" height="23.73" fill="#a66f76"/>
<rect x="438.5" y="48.47" width="26.2" height="23.73" fill="#b1877e"/>
<rect x="438.5" y="71.6" width="26.2" height="23.73" fill="#bc9e8a"/>
<rect x="438.5" y="94.73" width="26.2" height="23.73" fill="#c8b295"/>
<rect x="438.5" y="117.87" width="26.2" height="23.73" fill="#d4c6a0"/>
<rect x="438.5" y="141" width="26.2" height="23.73" fill="#ddd5a9"/>
<rect x="438.5" y="164.13" width="26.2" height="23.73" fill="#e5e3b8"/>
<rect x="438.5" y="187.27" width="26.2" height="23.73" fill="#ececc8"/>
<rect x="438.5" y="210.4" width="26.2" height="23.73" fill="#194a22"/>
<rect x="438.5" y="233.53" width="26.2" height="23.73" fill="#22602f"/>
<rect x="438.5" y="256.67" width="26.2" height="23.73" fill="#2e743a"/>
<rect x="438.5" y="279.8" width="26.2" height="23.73" fill="#3e8847"/>
<rect x="438.5" y="302.93" width="26.2" height="23.73" fill="#519c56"/>
<rect x="438.5" y="326.07" width="26.2" height="23.73" fill="#6aaf68"/>
<rect x="438.5" y="349.2" width="26.2" height="23.73" fill="#88c380"/>
<rect x="438.5" y="372.33" width="26.2" height="23.73" fill="#a4d398"/>
<rect x="438.5" y="395.47" width="26.2" height="23.73" fill="#c0e2b4"/>
<rect x="438.5" y="418.6" width="26.2" height="23.73" fill="#3d0c8a"/>
<rect x="438.5" y="441.73" width="26.2" height="23.73" fill="#44208c"/>
<rect x="438.5" y="464.87" width="26.2" height="23.73" fill="#503a96"/>
<rect x="438.5" y="488" width="26.2" height="23.73" fill="#6052a2"/>
<rect x="438.5" y="511.13" width="26.2" height="23.73" fill="#716aae"/>
<rect x="438.5" y="534.27" width="26.2" height="23.73" fill="#8480bc"/>
<rect x="438.5" y="557.4" width="26.2" height="23.73" fill="#9a96c8"/>
<rect x="438.5" y="580.53" width="26.2" height="23.73" fill="#b0afd4"/>
<rect x="438.5" y="603.67" width="26.2" height="23.73" fill="#c8c8e2"/>
<text x="452.4" y="21.77" text-anchor="middle" font-size="22.5" font-family="'Liberation Sans', 'DejaVu Sans', sans-serif" fill="#fff">9</text>
<text x="452.4" y="44.9" text-anchor="middle" font-size="22.5" font-family="'Liberation Sans', 'DejaVu Sans', sans-serif" fill="#fff">8</text>
<text x="452.4" y="68.03" text-anchor="middle" font-size="22.5" font-family="'Liberation Sans', 'DejaVu Sans', sans-serif" fill="#fff">7</text>
<text x="452.4" y="91.17" text-anchor="middle" font-size="22.5" font-family="'Liberation Sans', 'DejaVu Sans', sans-serif" fill="#fff">6</text>
<text x="452.4" y="114.3" text-anchor="middle" font-size="22.5" font-family="'Liberation Sans', 'DejaVu Sans', sans-serif" fill="#fff">5</text>
<text x="452.4" y="137.43" text-anchor="middle" font-size="22.5" font-family="'Liberation Sans', 'DejaVu Sans', sans-serif" fill="#fff">4</text>
<text x="452.4" y="160.57" text-anchor="middle" font-size="22.5" font-family="'Liberation Sans', 'DejaVu Sans', sans-serif" fill="#fff">3</text>
<text x="452.4" y="183.7" text-anchor="middle" font-size="22.5" font-family="'Liberation Sans', 'DejaVu Sans', sans-serif" fill="#fff">2</text>
<text x="452.4" y="206.83" text-anchor="middle" font-size="22.5" font-family="'Liberation Sans', 'DejaVu Sans', sans-serif" fill="#fff">1</text>
<text x="452.4" y="229.97" text-anchor="middle" font-size="22.5" font-family="'Liberation Sans', 'DejaVu Sans', sans-serif" fill="#fff">9</text>
<text x="452.4" y="253.1" text-anchor="middle" font-size="22.5" font-family="'Liberation Sans', 'DejaVu Sans', sans-serif" fill="#fff">8</text>
<text x="452.4" y="276.23" text-anchor="middle" font-size="22.5" font-family="'Liberation Sans', 'DejaVu Sans', sans-serif" fill="#fff">7</text>
<text x="452.4" y="299.37" text-anchor="middle" font-size="22.5" font-family="'Liberation Sans', 'DejaVu Sans', sans-serif" fill="#fff">6</text>
<text x="452.4" y="322.5" text-anchor="middle" font-size="22.5" font-family="'Liberation Sans', 'DejaVu Sans', sans-serif" fill="#fff">5</text>
<text x="452.4" y="345.63" text-anchor="middle" font-size="22.5" font-family="'Liberation Sans', 'DejaVu Sans', sans-serif" fill="#fff">4</text>
<text x="452.4" y="368.77" text-anchor="middle" font-size="22.5" font-family="'Liberation Sans', 'DejaVu Sans', sans-serif" fill="#fff">3</text>
<text x="452.4" y="391.9" text-anchor="middle" font-size="22.5" font-family="'Liberation Sans', 'DejaVu Sans', sans-serif" fill="#fff">2</text>
<text x="452.4" y="415.03" text-anchor="middle" font-size="22.5" font-family="'Liberation Sans', 'DejaVu Sans', sans-serif" fill="#fff">1</text>
<text x="452.4" y="438.17" text-anchor="middle" font-size="22.5" font-family="'Liberation Sans', 'DejaVu Sans', sans-serif" fill="#fff">9</text>
<text x="452.4" y="461.3" text-anchor="middle" font-size="22.5" font-family="'Liberation Sans', 'DejaVu Sans', sans-serif" fill="#fff">8</text>
<text x="452.4" y="484.43" text-anchor="middle" font-size="22.5" font-family="'Liberation Sans', 'DejaVu Sans', sans-serif" fill="#fff">7</text>
<text x="452.4" y="507.57" text-anchor="middle" font-size="22.5" font-family="'Liberation Sans', 'DejaVu Sans', sans-serif" fill="#fff">6</text>
<text x="452.4" y="530.7" text-anchor="middle" font-size="22.5" font-family="'Liberation Sans', 'DejaVu Sans', sans-serif" fill="#fff">5</text>
<text x="452.4" y="553.83" text-anchor="middle" font-size="22.5" font-family="'Liberation Sans', 'DejaVu Sans', sans-serif" fill="#fff">4</text>
<text x="452.4" y="576.97" text-anchor="middle" font-size="22.5" font-family="'Liberation Sans', 'DejaVu Sans', sans-serif" fill="#fff">3</text>
<text x="452.4" y="600.1" text-anchor="middle" font-size="22.5" font-family="'Liberation Sans', 'DejaVu Sans', sans-serif" fill="#fff">2</text>
<text x="452.4" y="623.23" text-anchor="middle" font-size="22.5" font-family="'Liberation Sans', 'DejaVu Sans', sans-serif" fill="#fff">1</text>
<rect x="438.5" y="2.2" width="26.2" height="624.6" fill="none" stroke="#333" stroke-width="1.3"/>
<path d="M469.5 3.7 C480 3.7 492 3.9000000000000004 494.5 4.7 Q496 5.2 496 7.2 L496 210.1 Q496 212.1 494.5 212.6 C492 213.4 480 213.6 469.5 213.6" fill="none" stroke="#a07074" stroke-width="1.5"/>
<path d="M469.5 218.6 C480 218.6 492 218.79999999999998 494.5 219.6 Q496 220.1 496 222.1 L496 417.2 Q496 419.2 494.5 419.7 C492 420.5 480 420.7 469.5 420.7" fill="none" stroke="#6a9a5c" stroke-width="1.5"/>
<path d="M469.5 423.6 C480 423.6 492 423.8 494.5 424.6 Q496 425.1 496 427.1 L496 622.5 Q496 624.5 494.5 625.0 C492 625.8 480 626.0 469.5 626.0" fill="none" stroke="#5c5aa0" stroke-width="1.5"/>
<text transform="translate(489.4 108.8) rotate(-90)" text-anchor="middle" font-size="22" font-family="'Liberation Sans', 'DejaVu Sans', sans-serif" fill="#b07c80" textLength="72.5" lengthAdjust="spacingAndGlyphs">20 wt%</text>
<text transform="translate(489.4 319.3) rotate(-90)" text-anchor="middle" font-size="22" font-family="'Liberation Sans', 'DejaVu Sans', sans-serif" fill="#5fa050" textLength="71.5" lengthAdjust="spacingAndGlyphs">10 wt%</text>
<text transform="translate(489.4 524.4) rotate(-90)" text-anchor="middle" font-size="22" font-family="'Liberation Sans', 'DejaVu Sans', sans-serif" fill="#6058a8" textLength="59.5" lengthAdjust="spacingAndGlyphs">5 wt%</text>
<text transform="translate(517.7 314.2) rotate(-90)" text-anchor="middle" font-size="21.2" font-family="'DejaVu Sans', 'Liberation Sans', sans-serif" fill="#111"># of Periods</text>
<text x="151.1" y="680.1" font-size="20.33" font-family="'DejaVu Sans', 'Liberation Sans', sans-serif" fill="#111">Areal Density [g/cm<tspan dy="-7" font-size="14.2">2</tspan><tspan dy="7">]</tspan></text>
<text transform="translate(17.9 319.6) rotate(-90)" text-anchor="middle" font-size="20.2" font-family="'DejaVu Sans', 'Liberation Sans', sans-serif" fill="#111">Effective Dose Ratio</text>
<text transform="translate(40.6 321.4) rotate(-90)" text-anchor="middle" font-size="20.2" font-family="'DejaVu Sans', 'Liberation Sans', sans-serif" fill="#111">[(E/Φ)<tspan dy="4" font-size="14.2" font-style="italic">out</tspan><tspan dy="-4"> / (E/Φ)</tspan><tspan dy="4" font-size="14.2" font-style="italic">in</tspan><tspan dy="-4">]</tspan></text>
</svg>
</body></html>
